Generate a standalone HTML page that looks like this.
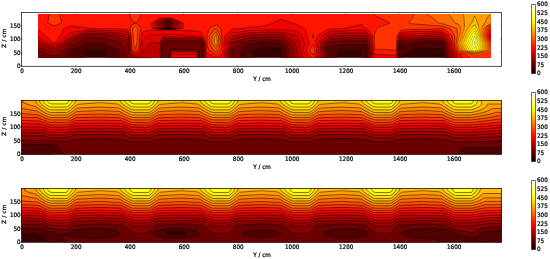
<!DOCTYPE html>
<html><head><meta charset="utf-8"><title>Contour plots</title>
<style>html,body{margin:0;padding:0;background:#fff}svg{display:block}</style></head>
<body>
<svg width="550" height="259" viewBox="0 0 550 259">
<rect width="550" height="259" fill="#fff"/>
<defs><linearGradient id="hotg" x1="0" y1="1" x2="0" y2="0"><stop offset="0" stop-color="#0b0000"/><stop offset="0.365" stop-color="#ff0000"/><stop offset="0.746" stop-color="#ffff00"/><stop offset="1" stop-color="#ffffff"/></linearGradient></defs>
<g><rect x="38.3" y="14" width="452.5" height="43.8" fill="#350000"/>
<path d="M38.3,14 490.8,14 490.8,57.8 442.5,57.8 442.6,50.5 442.3,49 426.1,47.8 421.8,48.8 410,50.5 400.5,57.8 361.5,57.8 361.5,50.5 345.3,49.5 339.1,50.5 338.3,54.4 337.3,57.8 280.7,57.8 281.5,54.4 282.2,50.5 280.7,48.4 264.5,47.4 258.3,48.8 252.4,50.5 253.3,54.4 254.6,57.8 106.2,57.8 105.6,50.5 102.9,49.3 86.8,49.3 83.8,50.5 83.3,57.8 38.3,57.8Z" fill="#4f0000" fill-rule="evenodd"/>
<path d="M38.3,14 490.8,14 490.8,57.8 444.9,57.8 445,54.4 442.8,43.2 442.3,42.5 426.1,42.4 417.3,43.2 410,45.1 400.5,45.4 400,50.5 399.9,57.8 366.8,57.8 366.6,50.5 366.4,48.8 365.5,44.5 361.5,45.1 345.3,44.2 329.2,46.6 327.9,50.5 327.4,57.8 285.2,57.8 285.8,50.5 284.9,48.8 280.7,43.2 264.5,42.6 256.5,43.2 248.4,44.7 243.2,48.8 241.2,50.5 240.3,57.8 120.5,57.8 119.1,50.5 116.4,48.8 102.9,43.4 86.8,43.4 73.9,48.8 70.6,49.9 69.9,50.5 68.6,54.4 65,57.8 38.3,57.8ZM167.6,22.4 165.7,23 166.6,28.5 168.6,28.5 168.8,27.1 169.4,23Z" fill="#6c0000" fill-rule="evenodd"/>
<path d="M38.3,14 490.8,14 490.8,57.8 447.3,57.8 447.4,54.4 445.9,50.5 444.3,43.2 442.3,40.6 426.1,40.6 410,42 400.5,42.1 400.2,43.2 399.5,50.5 399.3,57.8 368.2,57.8 367.8,50.5 367.5,48.8 366.5,43.2 365.5,40.7 361.5,41.4 345.3,40.8 329.2,42.2 328.1,43.2 326.4,48.8 326.1,50.5 325.1,57.8 289.7,57.8 289.5,50.5 288.7,48.8 285.5,43.2 280.7,40.4 264.5,39.8 248.4,40.8 240.3,43.2 233.9,48.8 232.2,50.5 231.8,57.8 202.2,57.8 202.1,43.2 201.5,42.2 197,42 167.6,41.9 163.2,41.7 162.5,43.2 162.3,57.8 127.8,57.8 126.5,54.4 125.3,50.5 124.5,48.8 120.5,43.2 119.1,42.4 102.9,37.7 86.8,37.2 75.4,43.2 70.6,45.1 66.6,48.8 63.5,50.5 58.6,54.4 54.5,56 46.5,54.4 38.3,50.5ZM167.6,21.6 163.4,23 164.1,28.5 167.6,28.7 171,28.5 171.8,23 168.8,21.9ZM169.4,50.5 171.2,49.2 197,49.2 198.9,50.5 199.1,57.8 169.1,57.8Z" fill="#890000" fill-rule="evenodd"/>
<path d="M38.3,14 490.8,14 490.8,57.8 449.8,57.8 449.8,54.4 447.5,50.5 445.8,43.2 442.3,38.6 426.1,38.8 410,40 400.5,40.2 399.6,43.2 399,50.5 398.6,57.8 369.7,57.8 369,50.5 367.8,43.2 365.5,37.5 361.5,38.7 345.3,37.7 329.2,39.5 325.5,43.2 324.4,48.8 323.6,54.4 322.9,57.8 294.2,57.8 293.2,50.5 292.6,48.8 290.2,43.2 280.7,37.6 264.5,37 248.4,37.7 232.2,42.6 231.8,43.2 230.4,50.5 229.8,57.8 203.2,57.8 202.9,50.5 202.8,43.2 201.5,40.8 197,40.6 183.7,40.3 167.6,40.2 163.2,39.9 161.6,43.2 161.2,57.8 130.6,57.8 128.8,54.4 128.2,50.5 127.8,43.2 119.1,38.3 111.5,35.9 102.9,34.9 86.8,34.7 82.7,35.9 70.6,41.7 68.5,43.2 61.2,48.8 57.2,50.5 54.5,52.2 49.5,50.5 43.1,48.8 38.3,46.9ZM163.2,22.1 161.1,23 161.7,28.5 167.6,28.8 173.5,28.5 174.1,23 171.2,21.8 167.6,20.9ZM170.1,50.5 171.2,49.7 197,49.7 198.2,50.5 198.5,54.4 198.7,57.8 169.5,57.8 169.7,54.4Z" fill="#a30000" fill-rule="evenodd"/>
<path d="M38.3,14 490.8,14 490.8,57.8 452.2,57.8 452.2,54.4 449.2,50.5 447.3,43.2 442.3,36.7 426.1,37 410,38.1 400.5,38.2 399,43.2 398,57.8 371.1,57.8 369.1,43.2 366.5,35.9 365.5,34.9 361.5,35.9 345.3,35 337.3,35.9 329.2,36.9 322.9,43.2 322.3,50.5 321.5,54.4 320.7,57.8 298.6,57.8 297.7,54.4 296.5,48.8 295,43.2 285.3,35.9 280.7,34.8 264.5,34.5 248.4,35 244.3,35.9 232.2,39.5 229.8,43.2 228.6,50.5 227.8,57.8 204.3,57.8 203.7,50.5 203.6,43.2 201.5,39.4 197,39.1 183.7,38.8 167.6,38.6 163.2,38.1 160.7,43.2 160,57.8 135.3,57.8 131.8,56.7 130.1,54.4 129,50.5 128.5,43.2 127.8,38 123.4,35.9 119.1,35.1 102.9,33.3 86.8,33.1 77.7,35.9 70.6,39.3 65,43.2 55.9,48.8 54.5,49.4 52,48.8 38.3,43.2ZM159.8,22.4 158.8,23 159.2,28.5 163.2,28.8 167.6,29 171.2,28.8 176,28.5 176.4,23 171.2,20.8 167.6,20.1 163.2,21ZM170.8,50.5 171.2,50.2 197,50.2 197.4,50.5 198,54.4 198.3,57.8 169.9,57.8 170.2,54.4Z" fill="#c00000" fill-rule="evenodd"/>
<path d="M38.3,14 490.8,14 490.8,35.3 490.5,35.9 490.8,36.3 490.8,57.8 454.6,57.8 454.6,54.4 450.8,50.5 448.7,43.2 443.9,35.9 442.3,34.7 426.1,35.1 410,36.1 400.5,36.3 398.4,43.2 398.1,48.8 397.4,57.8 372.5,57.8 371.4,50.5 371,48.8 370.4,43.2 368.4,35.9 365.5,32.9 361.5,33.1 345.3,32.9 329.2,34.4 326.5,35.9 320.3,43.2 320.5,50.5 319.5,54.4 318.4,57.8 302.8,57.8 301.4,54.4 300.1,50.5 299.7,43.2 296.9,35.9 280.7,32.2 264.5,32.2 248.4,32.7 234.2,35.9 232.2,36.5 227.8,43.2 227.2,48.8 226.8,50.5 225.7,57.8 205.4,57.8 204.5,50.5 204.4,43.2 201.5,38 197,37.7 183.7,37.2 167.6,36.9 163.2,36.3 159.8,43.2 151.4,42 149.8,43.2 142.8,50.5 140.9,54.4 138.8,55.7 135.3,56.2 131.8,55 131.4,54.4 129.8,50.5 129.3,43.2 128.3,35.9 127.8,34.5 119.1,33 102.9,31.8 86.8,31.5 72.6,35.9 70.6,36.9 61.6,43.2 54.5,47.3 43.6,43.2 38.3,40ZM159.8,20.9 156.4,23 156.7,28.5 159.8,28.8 167.6,29.1 171.2,29 178.4,28.5 178.7,23 171.2,19.8 167.6,19.3 163.2,20ZM170.7,54.4 171.2,51.7 197,51.7 197.5,54.4 197.9,57.8 170.3,57.8Z" fill="#dd0000" fill-rule="evenodd"/>
<path d="M38.3,14 490.8,14 490.8,32.2 489.3,35.9 490.8,38.3 490.8,57.8 457,57.8 457,54.4 452.5,50.5 450.2,43.2 446.6,35.9 442.3,32.6 400.5,34.3 399.5,35.9 397.8,43.2 397.6,48.8 396.8,57.8 373.9,57.8 372.5,50.5 372.1,48.8 371.7,43.2 370.4,35.9 365.5,30.9 361.5,30.2 345.3,30.7 329.2,31.8 322.2,35.9 317.7,43.2 318.6,50.5 317.4,54.4 316.2,57.8 307.1,57.8 305.1,54.4 303.3,50.5 304.5,43.2 302.1,35.9 296.9,30.9 280.7,29.6 264.5,29.9 248.4,30.5 232.2,32.9 229.1,35.9 225.8,43.2 225.4,48.8 223.7,57.8 206.5,57.8 205.9,54.4 205.4,50.5 205.1,43.2 201.5,36.6 197,36.2 190.4,35.9 183.7,35 171.2,34.3 167.6,34.3 163.2,33.3 159.8,35 151.4,34.3 147.5,35.9 142.8,39.5 142.1,43.2 141.5,48.8 141.2,50.5 138.8,53.7 135.3,54.6 131.8,53.2 130.6,50.5 130.1,43.2 129.3,35.9 127.8,32.2 119.1,30.9 102.9,30.3 86.8,30 70.6,32.4 66.8,35.9 58.1,43.2 54.5,45.3 48.9,43.2 38.3,36.8ZM159.8,19.5 154.1,23 154.3,28.5 159.8,29.1 167.6,29.2 171.2,29.2 180.9,28.5 181,23 171.2,18.8 167.6,18.6 163.2,18.9ZM170.7,57.8 171.2,54.6 197,54.6 197.5,57.8Z" fill="#f70000" fill-rule="evenodd"/>
<path d="M38.3,14 490.8,14 490.8,29.1 488.1,35.9 490.8,40.4 490.8,57.8 461.7,57.8 460.8,54.4 458.5,53.9 454.2,50.5 449.3,35.9 442.3,30.6 426.1,31.3 410,31.7 400.5,32.3 398.3,35.9 397.3,43.2 397.1,48.8 396.5,54.9 393.8,55.1 377.7,54.7 374.5,54.3 373.7,50.5 373.3,48.8 373,43.2 372.3,35.9 367.9,29.4 365.9,28.5 365.5,27.8 361.5,24.3 345.3,28.5 329.2,29.2 327.6,29.4 317.8,35.9 315.1,43.2 316.5,48.8 316.7,50.5 315.4,54.4 313.9,57.8 311.3,57.8 308.8,54.4 306.6,50.5 307,48.8 309.2,43.2 307.4,35.9 305.2,29.4 304.4,28.5 296.9,24.5 291.5,23 280.7,19.1 273,23 264.5,25.9 248.4,27.3 242.3,28.5 232.2,29.2 231.6,29.4 225.2,35.9 223.9,43.2 223.6,48.8 222.5,54.1 222.3,54.4 216.1,57.8 208.8,54.4 206.5,52.6 206,48.8 205.9,43.2 203.5,35.9 201.5,32.6 199.9,31.6 199.4,31.4 197,31.1 183.7,30.5 163.2,30.1 159.8,30.4 151.4,30.4 142.8,31.7 141.7,35.9 140.6,43.2 140,48.8 139.6,50.5 138.8,51.6 135.3,53 131.8,51.4 131.4,50.5 131.1,48.8 130.3,35.9 127.8,29.9 119.1,28.8 102.9,28.7 90,28.5 86.8,28 70.6,26.1 64.5,28.5 63.3,29.4 60.4,35.9 54.6,43.2 54.5,43.3 54.2,43.2 45.4,35.9 38.3,29.6ZM159.8,18.1 151.8,23 151.8,28.5 159.8,29.3 167.6,29.4 171.2,29.4 183.3,28.5 183.4,23 171.2,17.9 167.6,17.8ZM171.2,57.8 171.2,57.5 197,57.5 197,57.8Z" fill="#ff1500" fill-rule="evenodd"/>
<path d="M49.3,14 59.6,14 61.6,23 54.5,25.8 47.8,23ZM130,14 140.5,14 139.9,17.6 138.8,19.9 135.3,23 131.8,19.9 130.6,17.6ZM372.9,14 490.8,14 490.8,27.4 489.2,28.5 488.7,29.4 486.9,35.9 490.8,42.4 490.8,57.8 469.8,57.8 466.5,54.4 458.5,52.6 455.8,50.5 455.1,48.8 453.2,43.2 452,35.9 445,29.4 442.3,28.5 426.1,29.4 410,29.4 400.5,30.3 397.1,35.9 396.7,43.2 396.5,49.6 393.8,49.9 374.5,49.1 374.4,48.8 374.3,35.9 374.5,33.8 376.8,29.4 376.8,28.5 377.7,27.6 390.1,23 379.4,17.6 377.7,17ZM129.9,28.5 131.8,24.7 135.3,23 138.8,24.7 140.8,28.5 139.7,35.9 138.8,46.6 138.3,48.8 137.1,50.5 135.3,51.4 133.4,50.5 132.2,48.8 131.8,46.6 131.3,35.9ZM209.2,28.5 216.1,24.6 220.7,28.5 221,29.4 221.9,35.9 222,43.2 221.4,48.8 220.6,50.5 216.7,54.4 216.1,54.8 215.3,54.4 209.4,50.5 208.1,48.8 207,43.2 207,35.9 208.8,29.4ZM312.6,35.9 313,34.7 313.4,35.9 313,38ZM310.5,48.8 313,44.4 314.5,48.8 314.9,50.5 313,55.1 309.8,50.5Z" fill="#ff3200" fill-rule="evenodd"/>
<path d="M413.5,14 490.8,14 490.8,26 487.1,28.5 486.9,29.4 485.6,35.9 489.9,43.2 490.8,48.7 490.8,51.6 481.6,54.4 474.6,56.1 472.3,54.4 458.5,51.3 457.5,50.5 454.6,43.2 454.7,35.9 451,29.4 449.6,28.5 442.3,26 426.1,24.9 410,23.6 408.6,23 410,21 412.6,17.6ZM132.9,28.5 135.3,26.1 137.6,28.5 137.7,29.4 137.5,35.9 136.9,43.2 135.4,48.8 135.3,48.9 135.1,48.8 133.6,43.2 133.1,35.9 132.8,29.4ZM214.4,29.4 216.1,28.5 217.2,29.4 220.2,35.9 220.4,43.2 218.7,48.8 217.3,50.5 216.1,51.7 214.1,50.5 212.2,48.8 209.4,43.2 209.7,35.9Z" fill="#ff4c00" fill-rule="evenodd"/>
<path d="M426.1,14 490.8,14 490.8,24.6 485.1,28.5 484.4,35.9 488.4,43.2 489.2,50.5 474.6,54.1 459.3,50.5 458.4,48.8 456.1,43.2 457.4,35.9 457,28.5 442.3,23.5 438.8,23 432.5,17.6ZM212.3,35.9 216.1,31.6 218.5,35.9 218.9,43.2 216.1,48.7 211.8,43.2Z" fill="#ff6900" fill-rule="evenodd"/>
<path d="M448.8,14 490.8,14 490.8,23.3 483.1,28.5 483.2,35.9 486.9,43.2 487.3,50.5 474.6,53.6 461.3,50.5 458.5,45.4 457.6,43.2 458.5,39.5 459.7,35.9 461,28.5 458.5,24.1 455.2,23ZM215,35.9 216.1,34.7 216.8,35.9 217.3,43.2 216.1,45.6 214.1,43.2Z" fill="#ff8600" fill-rule="evenodd"/>
<path d="M463.5,14 490.8,14 487.1,17.6 484.9,23 481.1,28.5 482,35.9 485.4,43.2 485.3,50.5 474.6,53.2 463.4,50.5 459.3,43.2 461.9,35.9 463.9,29.4 464.3,28.5 464.3,23 464,17.6Z" fill="#ffa000" fill-rule="evenodd"/>
<path d="M473.8,17.6 474.6,16.1 475.6,17.6 477.6,23 479.4,29.4 480.7,35.9 483.9,43.2 483.4,50.5 474.6,52.7 465.4,50.5 461.4,43.2 464,35.9 466.9,29.4 471.7,23Z" fill="#ffbd00" fill-rule="evenodd"/>
<path d="M470.7,28.5 474.6,24.8 477,28.5 477.5,29.4 479.5,35.9 482.5,43.2 481.5,50.5 474.6,52.2 467.4,50.5 463.5,43.2 466.1,35.9 469.9,29.4Z" fill="#ffda00" fill-rule="evenodd"/>
<path d="M474,28.5 474.6,27.9 475.6,29.4 478.3,35.9 481,43.2 479.9,48.8 479.5,50.5 474.6,51.7 469.5,50.5 465.6,43.2 468.2,35.9 473,29.4Z" fill="#fff400" fill-rule="evenodd"/>
<path d="M470.4,35.9 474.6,30.6 477.1,35.9 479.5,43.2 478.1,48.8 477.6,50.5 474.6,51.2 471.5,50.5 467.7,43.2Z" fill="#ffff1b" fill-rule="evenodd"/>
<path d="M472.5,35.9 474.6,33.3 475.8,35.9 478,43.2 476.3,48.8 475.6,50.5 474.6,50.7 473.6,50.5 469.8,43.2Z" fill="#ffff46" fill-rule="evenodd"/>
<path d="M471.9,43.2 474.6,35.9 476.5,43.2 474.6,48.5Z" fill="#ffff6d" fill-rule="evenodd"/>
<path d="M474,43.2 474.6,41.6 475,43.2 474.6,44.4Z" fill="#ffff99" fill-rule="evenodd"/>
<clipPath id="cpo"><path clip-rule="evenodd" d="M0,0H550V259H0ZM458,27H492V56H458Z"/></clipPath><clipPath id="cpi"><rect x="458" y="27" width="34" height="29"/></clipPath>
<defs><path id="ln1" d="M106.2,57.8 105.6,50.5 102.9,49.3 86.8,49.3 83.8,50.5 83.3,57.8M280.7,57.8 281.5,54.4 282.2,50.5 280.7,48.4 264.5,47.4 258.3,48.8 252.4,50.5 253.3,54.4 254.6,57.8M361.5,57.8 361.5,50.5 345.3,49.5 339.1,50.5 338.3,54.4 337.3,57.8M442.5,57.8 442.6,50.5 442.3,49 426.1,47.8 421.8,48.8 410,50.5 400.5,57.8M167.6,22.4 165.7,23 166.6,28.5 168.6,28.5 168.8,27.1 169.4,23ZM120.5,57.8 119.1,50.5 116.4,48.8 102.9,43.4 86.8,43.4 73.9,48.8 70.6,49.9 69.9,50.5 68.6,54.4 65,57.8M285.2,57.8 285.8,50.5 284.9,48.8 280.7,43.2 264.5,42.6 256.5,43.2 248.4,44.7 243.2,48.8 241.2,50.5 240.3,57.8M366.8,57.8 366.6,50.5 366.4,48.8 365.5,44.5 361.5,45.1 345.3,44.2 329.2,46.6 327.9,50.5 327.4,57.8M444.9,57.8 445,54.4 442.8,43.2 442.3,42.5 426.1,42.4 417.3,43.2 410,45.1 400.5,45.4 400,50.5 399.9,57.8M167.6,21.6 163.4,23 164.1,28.5 167.6,28.7 171,28.5 171.8,23 168.8,21.9ZM127.8,57.8 126.5,54.4 125.3,50.5 124.5,48.8 120.5,43.2 119.1,42.4 102.9,37.7 86.8,37.2 75.4,43.2 70.6,45.1 66.6,48.8 63.5,50.5 58.6,54.4 54.5,56 46.5,54.4 38.3,50.5M169.1,57.8 169.4,50.5 171.2,49.2 197,49.2 198.9,50.5 199.1,57.8M202.2,57.8 202.1,43.2 201.5,42.2 197,42 167.6,41.9 163.2,41.7 162.5,43.2 162.3,57.8M289.7,57.8 289.5,50.5 288.7,48.8 285.5,43.2 280.7,40.4 264.5,39.8 248.4,40.8 240.3,43.2 233.9,48.8 232.2,50.5 231.8,57.8M368.2,57.8 367.8,50.5 367.5,48.8 366.5,43.2 365.5,40.7 361.5,41.4 345.3,40.8 329.2,42.2 328.1,43.2 326.4,48.8 326.1,50.5 325.1,57.8M447.3,57.8 447.4,54.4 445.9,50.5 444.3,43.2 442.3,40.6 426.1,40.6 410,42 400.5,42.1 400.2,43.2 399.5,50.5 399.3,57.8M163.2,22.1 161.1,23 161.7,28.5 167.6,28.8 173.5,28.5 174.1,23 171.2,21.8 167.6,20.9ZM130.6,57.8 128.8,54.4 128.2,50.5 127.8,43.2 119.1,38.3 111.5,35.9 102.9,34.9 86.8,34.7 82.7,35.9 70.6,41.7 68.5,43.2 61.2,48.8 57.2,50.5 54.5,52.2 49.5,50.5 43.1,48.8 38.3,46.8M169.5,57.8 169.7,54.4 170.1,50.5 171.2,49.7 197,49.7 198.2,50.5 198.5,54.4 198.7,57.8M203.2,57.8 202.9,50.5 202.8,43.2 201.5,40.8 197,40.6 183.7,40.3 167.6,40.2 163.2,39.9 161.6,43.2 161.2,57.8M294.2,57.8 293.2,50.5 292.6,48.8 290.2,43.2 280.7,37.6 264.5,37 248.4,37.7 232.2,42.6 231.8,43.2 230.4,50.5 229.8,57.8M369.7,57.8 369,50.5 367.8,43.2 365.5,37.5 361.5,38.7 345.3,37.7 329.2,39.5 325.5,43.2 324.4,48.8 323.6,54.4 322.9,57.8M449.8,57.8 449.8,54.4 447.5,50.5 445.8,43.2 442.3,38.6 426.1,38.8 410,40 400.5,40.2 399.6,43.2 399,50.5 398.6,57.8M159.8,22.4 158.8,23 159.2,28.5 163.2,28.8 167.6,29 171.2,28.8 176,28.5 176.4,23 171.2,20.8 167.6,20.1 163.2,21ZM151.4,57.8 135.3,57.8 131.8,56.7 130.1,54.4 129,50.5 128.5,43.2 127.8,38 123.4,35.9 119.1,35.1 102.9,33.3 86.8,33.1 77.7,35.9 70.6,39.3 65,43.2 55.9,48.8 54.5,49.4 52,48.8 38.3,43.2M169.9,57.8 170.2,54.4 170.8,50.5 171.2,50.2 197,50.2 197.4,50.5 198,54.4 198.3,57.8M204.3,57.8 203.7,50.5 203.6,43.2 201.5,39.4 197,39.1 183.7,38.8 167.6,38.6 163.2,38.1 160.7,43.2 160,57.8M298.6,57.8 297.7,54.4 296.5,48.8 295,43.2 285.3,35.9 280.7,34.8 264.5,34.5 248.4,35 244.3,35.9 232.2,39.5 229.8,43.2 228.6,50.5 227.8,57.8M371.1,57.8 369.1,43.2 366.5,35.9 365.5,34.9 361.5,35.9 345.3,35 337.3,35.9 329.2,36.9 322.9,43.2 322.3,50.5 321.5,54.4 320.7,57.8M452.2,57.8 452.2,54.4 449.2,50.5 447.3,43.2 442.3,36.7 426.1,37 410,38.1 400.5,38.2 399,43.2 398,57.8M159.8,20.9 156.4,23 156.7,28.5 159.8,28.8 167.6,29.1 171.2,29 178.4,28.5 178.7,23 171.2,19.8 167.6,19.3 163.2,20ZM490.8,35.3 490.5,35.9 490.8,36.3M170.3,57.8 170.7,54.4 171.2,51.7 197,51.7 197.5,54.4 197.9,57.8M205.4,57.8 204.5,50.5 204.4,43.2 201.5,38 197,37.7 183.7,37.2 167.6,36.9 163.2,36.3 159.8,43.2 151.4,42 149.8,43.2 142.8,50.5 140.9,54.4 138.8,55.7 135.3,56.2 131.8,55 131.4,54.4 129.8,50.5 129.3,43.2 128.3,35.9 127.8,34.5 119.1,33 102.9,31.8 86.8,31.5 72.6,35.9 70.6,36.9 61.6,43.2 54.5,47.3 43.6,43.2 38.3,40M302.8,57.8 301.4,54.4 300.1,50.5 299.7,43.2 296.9,35.9 280.7,32.2 264.5,32.2 248.4,32.7 234.2,35.9 232.2,36.5 227.8,43.2 227.2,48.8 226.8,50.5 225.7,57.8M372.5,57.8 371.4,50.5 371,48.8 370.4,43.2 368.4,35.9 365.5,32.9 361.5,33.1 345.3,32.9 329.2,34.4 326.5,35.9 320.3,43.2 320.5,50.5 319.5,54.4 318.4,57.8M454.6,57.8 454.6,54.4 450.8,50.5 448.7,43.2 443.9,35.9 442.3,34.7 426.1,35.1 410,36.1 400.5,36.3 398.4,43.2 398.1,48.8 397.4,57.8M159.8,19.5 154.1,23 154.3,28.5 159.8,29.1 167.6,29.2 171.2,29.2 180.9,28.5 181,23 171.2,18.8 167.6,18.6 163.2,18.9ZM490.8,32.2 489.3,35.9 490.8,38.3M170.7,57.8 171.2,54.6 197,54.6 197.5,57.8M206.5,57.8 205.9,54.4 205.4,50.5 205.1,43.2 201.5,36.6 197,36.2 190.4,35.9 183.7,35 171.2,34.3 167.6,34.3 163.2,33.3 159.8,35 151.4,34.3 147.5,35.9 142.8,39.5 142.1,43.2 141.5,48.8 141.2,50.5 138.8,53.7 135.3,54.6 131.8,53.2 130.6,50.5 130.1,43.2 129.3,35.9 127.8,32.2 119.1,30.9 102.9,30.3 86.8,30 70.6,32.4 66.8,35.9 58.1,43.2 54.5,45.3 48.9,43.2 38.3,36.8M307.1,57.8 305.1,54.4 303.3,50.5 304.5,43.2 302.1,35.9 296.9,30.9 280.7,29.6 264.5,29.9 248.4,30.5 232.2,32.9 229.1,35.9 225.8,43.2 225.4,48.8 223.7,57.8M373.9,57.8 372.5,50.5 372.1,48.8 371.7,43.2 370.4,35.9 365.5,30.9 361.5,30.2 345.3,30.7 329.2,31.8 322.2,35.9 317.7,43.2 318.6,50.5 317.4,54.4 316.2,57.8M457,57.8 457,54.4 452.5,50.5 450.2,43.2 446.6,35.9 442.3,32.6 400.5,34.3 399.5,35.9 397.8,43.2 397.6,48.8 396.8,57.8M159.8,18.1 151.8,23 151.8,28.5 159.8,29.3 167.6,29.4 171.2,29.4 183.3,28.5 183.4,23 171.2,17.9 167.6,17.8ZM490.8,29.1 488.1,35.9 490.8,40.4M171.2,57.8 171.2,57.5 197,57.5 197,57.8M311.3,57.8 308.8,54.4 306.6,50.5 307,48.8 309.2,43.2 307.4,35.9 305.2,29.4 304.4,28.5 296.9,24.5 291.5,23 280.7,19.1 273,23 264.5,25.9 248.4,27.3 242.3,28.5 232.2,29.2 231.6,29.4 225.2,35.9 223.9,43.2 223.6,48.8 222.5,54.1 222.3,54.4 216.1,57.8 208.8,54.4 206.5,52.6 206,48.8 205.9,43.2 203.5,35.9 201.5,32.6 199.9,31.6 199.4,31.4 197,31.1 183.7,30.5 163.2,30.1 159.8,30.4 151.4,30.4 142.8,31.7 141.7,35.9 140.6,43.2 140,48.8 139.6,50.5 138.8,51.6 135.3,53 131.8,51.4 131.4,50.5 131.1,48.8 130.3,35.9 127.8,29.9 119.1,28.8 102.9,28.7 90,28.5 86.8,28 70.6,26.1 64.5,28.5 63.3,29.4 60.4,35.9 54.5,43.3 54.2,43.2 45.4,35.9 38.3,29.6M461.7,57.8 460.8,54.4 458.5,53.9 454.2,50.5 449.3,35.9 442.3,30.6 426.1,31.3 410,31.7 400.5,32.3 398.3,35.9 397.3,43.2 397.1,48.8 396.5,54.9 393.8,55.1 377.7,54.7 374.5,54.3 373.7,50.5 373.3,48.8 373,43.2 372.3,35.9 367.9,29.4 365.9,28.5 365.5,27.8 361.5,24.3 345.3,28.5 329.2,29.2 327.6,29.4 317.8,35.9 315.1,43.2 316.5,48.8 316.7,50.5 315.4,54.4 313.9,57.8M59.6,14 61.6,23 54.5,25.8 47.8,23 49.3,14M140.5,14 139.9,17.6 138.8,19.9 135.3,23 131.8,19.9 130.6,17.6 130,14M129.9,28.5 131.8,24.7 135.3,23 138.8,24.7 140.8,28.5 139.7,35.9 138.8,46.6 138.3,48.8 137.1,50.5 135.3,51.4 133.4,50.5 132.2,48.8 131.8,46.6 131.3,35.9ZM209.2,28.5 216.1,24.6 220.7,28.5 221,29.4 221.9,35.9 222,43.2 221.4,48.8 220.6,50.5 216.7,54.4 216.1,54.8 215.3,54.4 209.4,50.5 208.1,48.8 207,43.2 207,35.9 208.8,29.4ZM490.8,27.4 489.2,28.5 488.7,29.4 486.9,35.9 490.8,42.4M312.6,35.9 313,34.7 313.4,35.9 313,38ZM310.5,48.8 313,44.4 314.5,48.8 314.9,50.5 313,55.1 309.8,50.5ZM469.8,57.8 466.5,54.4 458.5,52.6 455.8,50.5 453.2,43.2 452,35.9 445,29.4 442.3,28.5 426.1,29.4 410,29.4 400.5,30.3 397.1,35.9 396.7,43.2 396.5,49.6 393.8,49.9 374.5,49.1 374.4,48.8 374.3,35.9 374.5,33.8 376.8,29.4 376.8,28.5 377.7,27.6 390.1,23 379.4,17.6 377.7,17 372.9,14M132.9,28.5 135.3,26.1 137.6,28.5 137.7,29.4 137.5,35.9 136.9,43.2 135.4,48.8 135.3,48.9 135.1,48.8 133.6,43.2 133.1,35.9 132.8,29.4ZM490.8,26 487.1,28.5 486.9,29.4 485.6,35.9 489.9,43.2 490.8,48.7M214.4,29.4 216.1,28.5 217.2,29.4 220.2,35.9 220.4,43.2 218.7,48.8 217.3,50.5 216.1,51.7 214.1,50.5 212.2,48.8 209.4,43.2 209.7,35.9ZM490.8,51.6 481.6,54.4 474.6,56.1 472.3,54.4 458.5,51.3 457.5,50.5 454.6,43.2 454.7,35.9 451,29.4 449.6,28.5 442.3,26 426.1,24.9 410,23.6 408.6,23 410,21 412.6,17.6 413.5,14M490.8,24.6 485.1,28.5 484.4,35.9 488.4,43.2 489.2,50.5 474.6,54.1 459.3,50.5 458.4,48.8 456.1,43.2 457.4,35.9 457,28.5 442.3,23.5 438.8,23 432.5,17.6 426.1,14M212.3,35.9 216.1,31.6 218.5,35.9 218.9,43.2 216.1,48.7 211.8,43.2ZM490.8,23.3 483.1,28.5 483.2,35.9 486.9,43.2 487.3,50.5 474.6,53.6 461.3,50.5 458.5,45.4 457.6,43.2 458.5,39.5 459.7,35.9 461,28.5 458.5,24.1 455.2,23 448.8,14M215,35.9 216.1,34.7 216.8,35.9 217.3,43.2 216.1,45.6 214.1,43.2ZM490.8,14 487.1,17.6 484.9,23 481.1,28.5 482,35.9 485.4,43.2 485.3,50.5 474.6,53.2 463.4,50.5 459.3,43.2 461.9,35.9 463.9,29.4 464.3,28.5 464.3,23 464,17.6 463.5,14M473.8,17.6 474.6,16.1 475.6,17.6 477.6,23 479.4,29.4 480.7,35.9 483.9,43.2 483.4,50.5 474.6,52.7 465.4,50.5 461.4,43.2 464,35.9 466.9,29.4 471.7,23ZM470.7,28.5 474.6,24.8 477,28.5 477.5,29.4 479.5,35.9 482.5,43.2 481.5,50.5 474.6,52.2 467.4,50.5 463.5,43.2 466.1,35.9 469.9,29.4ZM474,28.5 474.6,27.9 475.6,29.4 478.3,35.9 481,43.2 479.9,48.8 479.5,50.5 474.6,51.7 469.5,50.5 465.6,43.2 468.2,35.9 473,29.4ZM470.4,35.9 474.6,30.6 477.1,35.9 479.5,43.2 478.1,48.8 477.6,50.5 474.6,51.2 471.5,50.5 467.7,43.2ZM472.5,35.9 474.6,33.3 475.8,35.9 478,43.2 476.3,48.8 475.6,50.5 474.6,50.7 473.6,50.5 469.8,43.2ZM471.9,43.2 474.6,35.9 476.5,43.2 474.6,48.5ZM474,43.2 474.6,41.6 475,43.2 474.6,44.4Z"/></defs>
<use href="#ln1" clip-path="url(#cpo)" fill="none" stroke="#000" stroke-opacity="0.9" stroke-width="0.45" stroke-linejoin="round"/>
<use href="#ln1" clip-path="url(#cpi)" fill="none" stroke="#000" stroke-opacity="0.6" stroke-width="0.35" stroke-linejoin="round"/></g>
<g><rect x="21.5" y="100.5" width="480" height="53.8" fill="#350000"/>
<path d="M21.5,100.5 501.5,100.5 501.5,154.3 21.5,154.3Z" fill="#4f0000" fill-rule="evenodd"/>
<path d="M21.5,100.5 501.5,100.5 501.5,147.5 467.5,147.6 465.5,147.6 462.6,148.3 460.6,150.3 459,152.3 457.7,154.3 62.3,154.3 61.4,152.3 59.5,148.3 57,146.3 55.5,145.7 53.5,145.1 51.5,144.7 43.5,144.4 21.5,144.4Z" fill="#6c0000" fill-rule="evenodd"/>
<path d="M21.5,100.5 501.5,100.5 501.5,141 471.5,141.7 455.5,141.7 453.5,141.5 451.5,141.1 447.5,139.9 445.5,139.6 433.5,139.1 423.5,138.4 421.5,138.4 415.5,138.9 409.5,139.2 397.5,139.6 395.2,140.4 393.5,141.1 391.5,141.6 389.5,141.7 373.5,141.6 371.5,141.2 368.5,140.4 365.5,139.6 353.5,139.1 343.5,138.4 341.5,138.3 327.5,139.2 315.5,139.6 311.5,141.2 309.5,141.7 307.5,141.7 293.5,141.7 291.5,141.6 289.5,141.2 286.8,140.4 283.5,139.6 271.5,139.1 261.5,138.4 247.5,139.2 235.5,139.6 231.5,141.2 229.5,141.7 227.5,141.7 213.5,141.7 211.5,141.6 209.5,141.2 206.8,140.4 203.5,139.6 191.5,139.1 181.5,138.4 167.5,139.2 155.5,139.6 151.5,141.2 149.5,141.7 147.5,141.7 133.5,141.7 131.5,141.6 129.5,141.2 126.8,140.4 123.5,139.6 111.5,139.1 101.1,138.4 97.5,138.4 91.5,138.9 85.5,139.2 73.5,139.6 71.2,140.4 69.5,141.1 67.5,141.6 65.5,141.6 61.5,141.2 57.5,141 49.5,140.8 44.4,140.4 43.5,140.2 41.5,140.1 39.9,140.4 37.5,140.5 21.5,140.4Z" fill="#890000" fill-rule="evenodd"/>
<path d="M21.5,100.5 501.5,100.5 501.5,136.6 471.5,137.9 455.5,137.9 453.5,137.5 447.5,135.4 445.5,134.9 421.5,134.4 397.5,134.9 393.5,136.9 391.5,137.7 389.5,137.9 375.5,137.9 373.5,137.7 369.5,136.4 365.5,134.9 341.5,134.4 317.5,134.9 315.5,135.1 312.9,136.4 309.5,137.8 293.5,137.9 291.5,137.6 283.5,134.9 261.5,134.4 237.5,134.9 235.5,135.1 232.9,136.4 229.5,137.8 213.5,137.9 211.5,137.6 203.5,134.9 181.5,134.4 157.5,134.9 155.5,135.1 152.9,136.4 149.5,137.8 133.5,137.9 131.5,137.6 123.5,134.9 99.5,134.4 73.5,134.9 69.5,136.9 67.5,137.7 65.5,137.9 51.5,137.9 49.5,137.7 43.5,135.8 41.5,135.4 37.5,135.9 35.5,135.9 21.5,135.7Z" fill="#a30000" fill-rule="evenodd"/>
<path d="M21.5,100.5 501.5,100.5 501.5,133.4 471.5,135 455.5,135 453.5,134.6 445.5,131.7 421.5,131.2 399.5,131.7 397.5,131.9 391.5,134.7 389.5,135 375.5,135 373.5,134.8 369.5,133.4 365.5,131.9 363.5,131.6 341.5,131.2 317.5,131.7 315.5,132 309.5,134.9 307.5,135 293.5,135 291.5,134.7 287.5,133.3 283.5,131.8 281.5,131.6 261.5,131.2 237.5,131.7 235.5,132 229.5,134.9 227.5,135 213.5,135 211.5,134.7 207.5,133.3 203.5,131.8 201.5,131.6 181.5,131.2 157.5,131.7 155.5,132 149.5,134.9 147.5,135 133.5,135 131.5,134.7 127.5,133.3 123.5,131.8 121.5,131.6 99.5,131.2 75.5,131.7 73.5,131.9 67.5,134.7 65.5,135 51.5,135 49.5,134.8 43.5,132.8 41.5,132.4 39.5,132.6 37.5,132.9 35.5,132.9 21.5,132.7Z" fill="#c00000" fill-rule="evenodd"/>
<path d="M21.5,100.5 501.5,100.5 501.5,130.4 471.5,132.4 455.5,132.4 453.5,132 445.5,128.9 443.5,128.7 421.5,128.3 399.5,128.8 397.5,129.1 391.5,132.2 389.5,132.4 375.5,132.4 373.5,132.2 365.5,129.2 363.5,128.8 341.5,128.3 317.5,128.8 315.5,129.3 309.5,132.3 307.5,132.4 293.5,132.4 291.5,132.1 283.5,129.1 281.5,128.7 259.5,128.3 237.5,128.8 235.5,129.3 229.5,132.3 227.5,132.4 213.5,132.4 211.5,132.1 203.5,129.1 201.5,128.7 181.5,128.3 157.5,128.8 155.5,129.3 149.5,132.3 147.5,132.4 133.5,132.4 131.5,132.1 123.5,129.1 121.5,128.7 99.5,128.3 75.5,128.8 73.5,129.1 67.5,132.2 65.5,132.4 51.5,132.4 49.5,132.2 43.5,130.1 41.5,129.7 39.5,129.7 37.5,130.1 35.5,130.2 21.5,129.8Z" fill="#dd0000" fill-rule="evenodd"/>
<path d="M21.5,100.5 501.5,100.5 501.5,127.5 471.5,129.8 455.5,129.8 453.5,129.3 445.5,126.4 443.5,126.1 421.5,125.6 399.5,126.1 397.5,126.6 391.5,129.5 389.5,129.8 375.5,129.8 373.5,129.6 365.5,126.7 363.5,126.1 341.5,125.6 317.5,126.1 315.5,126.7 309.5,129.7 307.5,129.8 293.5,129.8 291.5,129.5 283.5,126.6 281.5,126.1 259.5,125.6 237.5,126.1 235.5,126.7 229.5,129.7 227.5,129.8 213.5,129.8 211.5,129.5 203.5,126.6 201.5,126.1 181.5,125.6 157.5,126.1 155.5,126.7 149.5,129.7 147.5,129.8 133.5,129.8 131.5,129.5 123.5,126.6 121.5,126.1 99.5,125.6 75.5,126.1 73.5,126.6 67.5,129.5 65.5,129.8 51.5,129.8 49.5,129.6 46.3,128.4 43.5,127.5 39.5,126.7 37.5,127 35.5,127 21.5,126.7Z" fill="#f70000" fill-rule="evenodd"/>
<path d="M21.5,100.5 501.5,100.5 501.5,124.8 471.5,127.2 455.5,127.2 453.5,126.8 445.5,124 443.5,123.4 421.5,122.9 399.5,123.5 397.5,124.1 391.5,127 389.5,127.2 375.5,127.2 373.5,127 367.5,125 363.5,123.5 341.5,122.9 317.5,123.5 315.5,124.3 309.5,127.1 307.5,127.2 293.5,127.2 291.5,126.9 285.5,124.9 281.5,123.4 259.5,122.9 237.5,123.5 235.5,124.3 229.5,127.1 227.5,127.2 213.5,127.2 211.5,126.9 205.5,124.9 201.5,123.4 181.5,122.9 157.5,123.5 155.5,124.3 149.5,127.1 147.5,127.2 133.5,127.2 131.5,126.9 125.5,124.9 121.5,123.4 99.5,122.9 75.5,123.5 73.5,124.1 67.5,127 65.5,127.2 51.5,127.2 49.5,127 43.5,125.1 39.5,123.9 35.5,124 21.5,123.6Z" fill="#ff1500" fill-rule="evenodd"/>
<path d="M21.5,100.5 501.5,100.5 501.5,121.9 487.5,123.4 471.5,124.9 455.5,124.9 453.1,124.4 443.5,120.6 421.5,120.1 399.5,120.7 397.5,121.6 391.5,124.7 389.5,124.9 375.5,124.9 373.5,124.8 367.5,122.5 363.5,120.9 361.5,120.6 341.5,120.1 317.5,120.7 309.5,124.8 307.5,124.9 293.5,124.9 291.5,124.7 290.7,124.4 281.5,120.8 279.5,120.6 259.5,120.1 237.5,120.7 229.5,124.8 227.5,124.9 213.5,124.9 211.5,124.7 210.7,124.4 201.5,120.8 199.5,120.6 181.5,120.1 157.5,120.7 149.5,124.8 147.5,124.9 133.5,124.9 131.5,124.7 130.7,124.4 121.5,120.8 119.5,120.6 99.5,120.1 75.5,120.7 73.5,121.6 67.5,124.7 65.5,124.9 51.5,124.9 49.5,124.8 39.5,121.1 37.5,120.9 21.5,120.4Z" fill="#ff3200" fill-rule="evenodd"/>
<path d="M21.5,100.5 501.5,100.5 501.5,118.8 487.5,120.6 471.5,122.5 455.5,122.5 453.5,122 447.5,119.7 443.5,118 441.5,117.7 423.5,117.1 421.5,117.1 399.5,117.8 391.5,122.2 389.5,122.5 375.5,122.5 373.5,122.3 367.5,120 363.5,118.3 361.5,117.7 341.5,117.1 319.5,117.8 317.5,118 309.5,122.4 307.5,122.5 293.5,122.5 291.5,122.2 285.5,119.8 281.5,118.1 279.5,117.7 261.5,117.1 259.5,117.1 239.5,117.8 237.5,118 229.5,122.4 227.5,122.5 213.5,122.5 211.5,122.2 205.5,119.8 201.5,118.1 199.5,117.7 181.5,117.1 179.5,117.1 159.5,117.8 157.5,118 149.5,122.4 147.5,122.5 133.5,122.5 131.5,122.2 125.5,119.8 121.5,118.1 119.5,117.7 99.5,117.1 75.5,117.8 67.5,122.2 65.5,122.5 51.5,122.5 49.5,122.3 41.5,119.2 39.5,118.3 37.5,117.7 21.5,117.2Z" fill="#ff4c00" fill-rule="evenodd"/>
<path d="M21.5,100.5 501.5,100.5 501.5,115.7 499.5,115.7 497.5,115.9 493.5,116.8 487.5,117.8 471.5,119.9 455.5,119.9 453.5,119.5 447.5,117.1 443.5,115.2 441.5,114.7 423.5,114 421.5,114 401.5,114.8 399.5,115 395.5,117.5 391.5,119.7 389.5,119.9 375.5,119.9 373.5,119.7 367.5,117.4 361.5,114.7 341.5,114 319.5,114.8 317.5,115.2 313.5,117.7 309.5,119.8 307.5,119.9 293.5,119.9 291.5,119.6 285.5,117.3 281.5,115.4 279.5,114.7 261.5,114 259.5,114 239.5,114.8 237.5,115.2 233.5,117.7 229.5,119.8 227.5,119.9 213.5,119.9 211.5,119.6 205.5,117.3 201.5,115.4 199.5,114.7 181.5,114 159.5,114.8 157.5,115.2 153.5,117.7 149.5,119.8 147.5,119.9 133.5,119.9 131.5,119.6 125.5,117.3 121.5,115.4 119.5,114.7 99.5,114 77.5,114.8 75.5,115 71.5,117.5 67.5,119.7 65.5,119.9 51.5,119.9 49.5,119.7 47.5,119 41.5,116.5 37.5,114.6 21.5,113.5Z" fill="#ff6900" fill-rule="evenodd"/>
<path d="M21.5,100.5 501.5,100.5 501.5,112.3 497.5,112.3 495.5,112.4 491.5,113.7 487.5,114.7 481.5,115.9 471.5,117.5 455.5,117.5 453.5,117 449.5,115.3 447.5,114.4 441.5,111.4 423.5,110.5 421.5,110.5 401.5,111.5 399.5,112.1 396.2,114.4 391.5,117.2 389.5,117.5 375.5,117.5 373.5,117.3 371.4,116.4 366.8,114.4 361.5,111.6 359.5,111.3 341.5,110.5 319.5,111.5 317.5,112.3 314.5,114.4 309.5,117.4 307.5,117.5 293.5,117.5 291.5,117.2 287.5,115.5 283.5,113.7 279.5,111.5 277.5,111.3 261.5,110.5 259.5,110.6 239.5,111.5 237.5,112.3 234.5,114.4 229.5,117.4 227.5,117.5 213.5,117.5 211.5,117.2 207.5,115.5 203.5,113.7 199.5,111.5 197.5,111.3 181.5,110.5 159.5,111.5 157.5,112.3 154.5,114.4 149.5,117.4 147.5,117.5 133.5,117.5 131.5,117.2 127.5,115.5 123.5,113.7 119.5,111.5 117.5,111.3 99.5,110.5 77.5,111.5 75.5,112.1 72.2,114.4 67.5,117.2 65.5,117.5 51.5,117.5 49.5,117.3 43.5,114.8 41.5,113.7 37.5,111.2 35.5,110.6 29.5,109.8 23.5,108.7 21.5,108.6Z" fill="#ff8600" fill-rule="evenodd"/>
<path d="M23.2,100.5 501.5,100.5 501.5,108.5 493.5,108.5 491.5,109 489.1,110.5 485.5,111.8 483.5,112.4 479.5,113.4 471.5,115 455.5,115 453.5,114.5 449,112.5 445.5,110.6 441.5,108.2 439.5,107.8 423.5,107 421.5,107 401.5,108.1 399.5,109.1 397.5,110.7 395.5,112.2 391.5,114.7 389.5,115 375.5,115 373.5,114.8 371.5,113.9 368.3,112.5 365.5,111 361.5,108.6 359.5,107.9 341.5,107 319.5,108.1 317.5,109.3 315.5,111 313.5,112.4 309.5,114.9 307.5,115 293.5,115 291.5,114.7 289.5,113.8 285.5,111.9 283.5,110.9 279.5,108.4 277.5,107.8 261.5,107 259.5,107 239.5,108.1 237.5,109.3 235.5,111 233.5,112.4 229.5,114.9 227.5,115 213.5,115 211.5,114.7 209.5,113.8 205.5,111.9 203.5,110.9 199.5,108.4 197.5,107.8 181.5,107 179.5,107 159.5,108.1 157.5,109.3 155.5,111 153.5,112.4 149.5,114.9 147.5,115 133.5,115 131.5,114.7 129.5,113.8 125.5,111.9 123.5,110.9 119.5,108.4 117.5,107.8 99.5,107 77.5,108.1 75.5,109.1 73.5,110.7 71.5,112.2 67.5,114.7 65.5,115 51.5,115 49.5,114.8 44.4,112.5 41,110.5 37.5,107.8 35.5,106.6 31.5,105.6 27.8,104.5 23.5,102.6 22.8,102.5Z" fill="#ffa000" fill-rule="evenodd"/>
<path d="M35.6,100.5 501.5,100.5 501.5,104 489.5,104 487.5,104.2 487.3,104.5 486.4,106.5 483.8,108.5 481.5,109.5 479.1,110.5 471.5,112.5 455.5,112.5 453.5,112 450.4,110.5 446.8,108.5 441.5,104.9 440.4,104.5 439.5,104 423.5,102.7 421.5,102.8 401.5,104.3 395.5,109.3 394.1,110.5 391.5,112.2 389.5,112.5 375.5,112.5 373.5,112.3 369.7,110.5 365.5,108.1 360,104.5 359.5,104 343.5,102.8 341.5,102.7 319.5,104.4 314.9,108.5 312.4,110.5 309.5,112.4 307.5,112.5 293.5,112.5 291.5,112.1 288,110.5 283.5,107.9 277.5,104 261.5,102.7 259.5,102.8 239.5,104.4 234.9,108.5 232.4,110.5 229.5,112.4 227.5,112.5 213.5,112.5 211.5,112.1 208,110.5 203.5,107.9 197.5,104 181.5,102.7 179.5,102.8 159.5,104.4 154.9,108.5 152.4,110.5 149.5,112.4 147.5,112.5 133.5,112.5 131.5,112.1 128,110.5 123.5,107.9 117.5,104 101.5,102.7 99.5,102.7 97.5,102.8 77.5,104.3 71.5,109.3 70.1,110.5 67.5,112.2 65.5,112.5 51.5,112.5 49.5,112.3 47.5,111.4 45.5,110.3 41.5,107.7 40,106.5 37.8,104.5 36.2,102.5Z" fill="#ffbd00" fill-rule="evenodd"/>
<path d="M39.2,100.5 76.1,100.5 75.2,102.5 73.5,104.5 71.3,106.5 67.5,109.5 65.5,109.9 51.5,109.9 49.5,109.7 45.5,107.4 43.5,105.9 41.7,104.5 40,102.5ZM119.7,100.5 158.4,100.5 157.5,102.5 155.9,104.5 153.6,106.5 149.5,109.8 147.5,109.9 133.5,109.9 131.5,109.5 126.2,106.5 123.1,104.5 120.9,102.5ZM199.7,100.5 238.4,100.5 237.5,102.5 235.9,104.5 233.6,106.5 229.5,109.8 227.5,109.9 213.5,109.9 211.5,109.5 206.2,106.5 203.1,104.5 200.9,102.5ZM279.7,100.5 318.4,100.5 317.5,102.5 315.9,104.5 313.6,106.5 309.5,109.8 307.5,109.9 293.5,109.9 291.5,109.5 286.2,106.5 283.1,104.5 280.9,102.5ZM361.4,100.5 400.1,100.5 399.2,102.5 397.5,104.5 395.3,106.5 391.5,109.5 389.5,109.9 375.5,109.9 373.5,109.7 367.9,106.5 364.8,104.5 362.6,102.5ZM442.1,100.5 480.8,100.5 481.7,102.5 481.6,104.5 479.5,106.4 477.5,107.5 475.3,108.5 471.5,109.9 455.5,109.9 453.5,109.3 448.6,106.5 445.5,104.5 443.3,102.5Z" fill="#ffda00" fill-rule="evenodd"/>
<path d="M42.8,100.5 72.7,100.5 71.6,102.5 70.1,104.5 67.5,106.6 65.5,107 51.5,107 49.5,106.7 45.8,104.5 43.9,102.5ZM124.2,100.5 155,100.5 153.9,102.5 152.4,104.5 149.5,106.9 147.5,107 133.5,107 131.5,106.6 128,104.5 125.7,102.5ZM204.2,100.5 235,100.5 233.9,102.5 232.4,104.5 229.5,106.9 227.5,107 213.5,107 211.5,106.6 208,104.5 205.7,102.5ZM284.2,100.5 315,100.5 313.9,102.5 312.4,104.5 309.5,106.9 307.5,107 293.5,107 291.5,106.6 288,104.5 285.7,102.5ZM365.9,100.5 396.7,100.5 395.6,102.5 394.1,104.5 391.5,106.6 389.5,107 375.5,107 373.5,106.7 369.7,104.5 367.4,102.5ZM446.6,100.5 477.4,100.5 477,102.5 475.9,104.5 471.5,107 455.5,107 453.5,106.3 450.4,104.5 448.1,102.5Z" fill="#fff400" fill-rule="evenodd"/>
<path d="M46.9,100.5 69.2,100.5 68,102.5 67.5,103.2 65.5,103.9 51.5,103.9 49.5,103.4 48.5,102.5ZM129.1,100.5 151.5,100.5 150.3,102.5 149.5,103.6 147.5,103.9 133.5,103.9 131.5,103.1 130.8,102.5ZM209.1,100.5 231.5,100.5 230.3,102.5 229.5,103.6 227.5,103.9 213.5,103.9 211.5,103.1 210.8,102.5ZM289.1,100.5 311.5,100.5 310.3,102.5 309.5,103.6 307.5,103.9 293.5,103.9 291.5,103.1 290.8,102.5ZM370.8,100.5 393.2,100.5 392,102.5 391.5,103.2 389.5,103.9 375.5,103.9 373.5,103.4 372.5,102.5ZM451.5,100.5 473.9,100.5 472.6,102.5 471.5,103.9 455.5,103.9 453.5,102.7Z" fill="#ffff1b" fill-rule="evenodd"/>
<path d="M51.5,154.3 21.5,154.3M501.5,147.5 467.5,147.6 465.5,147.6 462.6,148.3 460.6,150.3 459,152.3 457.7,154.3M62.3,154.3 61.4,152.3 59.5,148.3 57,146.3 55.5,145.7 53.5,145.1 51.5,144.7 43.5,144.4 21.5,144.4M501.5,141 471.5,141.7 455.5,141.7 453.5,141.5 451.5,141.1 447.5,139.9 445.5,139.6 433.5,139.1 423.5,138.4 421.5,138.4 415.5,138.9 409.5,139.2 397.5,139.6 395.2,140.4 393.5,141.1 391.5,141.6 389.5,141.7 373.5,141.6 371.5,141.2 368.5,140.4 365.5,139.6 353.5,139.1 343.5,138.4 341.5,138.3 327.5,139.2 315.5,139.6 311.5,141.2 309.5,141.7 307.5,141.7 293.5,141.7 291.5,141.6 289.5,141.2 286.8,140.4 283.5,139.6 271.5,139.1 261.5,138.4 247.5,139.2 235.5,139.6 231.5,141.2 229.5,141.7 227.5,141.7 213.5,141.7 211.5,141.6 209.5,141.2 206.8,140.4 203.5,139.6 191.5,139.1 181.5,138.4 167.5,139.2 155.5,139.6 151.5,141.2 149.5,141.7 147.5,141.7 133.5,141.7 131.5,141.6 129.5,141.2 126.8,140.4 123.5,139.6 111.5,139.1 101.1,138.4 97.5,138.4 91.5,138.9 85.5,139.2 73.5,139.6 71.2,140.4 69.5,141.1 67.5,141.6 65.5,141.6 61.5,141.2 57.5,141 49.5,140.8 44.4,140.4 43.5,140.2 41.5,140.1 39.9,140.4 37.5,140.5 21.5,140.4M501.5,136.6 471.5,137.9 455.5,137.9 453.5,137.5 447.5,135.4 445.5,134.9 421.5,134.4 397.5,134.9 393.5,136.9 391.5,137.7 389.5,137.9 375.5,137.9 373.5,137.7 369.5,136.4 365.5,134.9 341.5,134.4 317.5,134.9 315.5,135.1 312.9,136.4 309.5,137.8 293.5,137.9 291.5,137.6 283.5,134.9 261.5,134.4 237.5,134.9 235.5,135.1 232.9,136.4 229.5,137.8 213.5,137.9 211.5,137.6 203.5,134.9 181.5,134.4 157.5,134.9 155.5,135.1 152.9,136.4 149.5,137.8 133.5,137.9 131.5,137.6 123.5,134.9 99.5,134.4 73.5,134.9 69.5,136.9 67.5,137.7 65.5,137.9 51.5,137.9 49.5,137.7 43.5,135.8 41.5,135.4 37.5,135.9 35.5,135.9 21.5,135.7M501.5,133.4 471.5,135 455.5,135 453.5,134.6 445.5,131.7 421.5,131.2 399.5,131.7 397.5,131.9 391.5,134.7 389.5,135 375.5,135 373.5,134.8 369.5,133.4 365.5,131.9 363.5,131.6 341.5,131.2 317.5,131.7 315.5,132 309.5,134.9 307.5,135 293.5,135 291.5,134.7 287.5,133.3 283.5,131.8 281.5,131.6 261.5,131.2 237.5,131.7 235.5,132 229.5,134.9 227.5,135 213.5,135 211.5,134.7 207.5,133.3 203.5,131.8 201.5,131.6 181.5,131.2 157.5,131.7 155.5,132 149.5,134.9 147.5,135 133.5,135 131.5,134.7 127.5,133.3 123.5,131.8 121.5,131.6 99.5,131.2 75.5,131.7 73.5,131.9 67.5,134.7 65.5,135 51.5,135 49.5,134.8 43.5,132.8 41.5,132.4 39.5,132.6 37.5,132.9 35.5,132.9 21.5,132.7M501.5,130.4 471.5,132.4 455.5,132.4 453.5,132 445.5,128.9 443.5,128.7 421.5,128.3 399.5,128.8 397.5,129.1 391.5,132.2 389.5,132.4 375.5,132.4 373.5,132.2 365.5,129.2 363.5,128.8 341.5,128.3 317.5,128.8 315.5,129.3 309.5,132.3 307.5,132.4 293.5,132.4 291.5,132.1 283.5,129.1 281.5,128.7 259.5,128.3 237.5,128.8 235.5,129.3 229.5,132.3 227.5,132.4 213.5,132.4 211.5,132.1 203.5,129.1 201.5,128.7 181.5,128.3 157.5,128.8 155.5,129.3 149.5,132.3 147.5,132.4 133.5,132.4 131.5,132.1 123.5,129.1 121.5,128.7 99.5,128.3 75.5,128.8 73.5,129.1 67.5,132.2 65.5,132.4 51.5,132.4 49.5,132.2 43.5,130.1 41.5,129.7 39.5,129.7 37.5,130.1 35.5,130.2 21.5,129.8M501.5,127.5 471.5,129.8 455.5,129.8 453.5,129.3 445.5,126.4 443.5,126.1 421.5,125.6 399.5,126.1 397.5,126.6 391.5,129.5 389.5,129.8 375.5,129.8 373.5,129.6 365.5,126.7 363.5,126.1 341.5,125.6 317.5,126.1 315.5,126.7 309.5,129.7 307.5,129.8 293.5,129.8 291.5,129.5 283.5,126.6 281.5,126.1 259.5,125.6 237.5,126.1 235.5,126.7 229.5,129.7 227.5,129.8 213.5,129.8 211.5,129.5 203.5,126.6 201.5,126.1 181.5,125.6 157.5,126.1 155.5,126.7 149.5,129.7 147.5,129.8 133.5,129.8 131.5,129.5 123.5,126.6 121.5,126.1 99.5,125.6 75.5,126.1 73.5,126.6 67.5,129.5 65.5,129.8 51.5,129.8 49.5,129.6 46.3,128.4 43.5,127.5 39.5,126.7 37.5,127 35.5,127 21.5,126.7M501.5,124.8 471.5,127.2 455.5,127.2 453.5,126.8 445.5,124 443.5,123.4 421.5,122.9 399.5,123.5 397.5,124.1 391.5,127 389.5,127.2 375.5,127.2 373.5,127 367.5,125 363.5,123.5 341.5,122.9 317.5,123.5 315.5,124.3 309.5,127.1 307.5,127.2 293.5,127.2 291.5,126.9 285.5,124.9 281.5,123.4 259.5,122.9 237.5,123.5 235.5,124.3 229.5,127.1 227.5,127.2 213.5,127.2 211.5,126.9 205.5,124.9 201.5,123.4 181.5,122.9 157.5,123.5 155.5,124.3 149.5,127.1 147.5,127.2 133.5,127.2 131.5,126.9 125.5,124.9 121.5,123.4 99.5,122.9 75.5,123.5 73.5,124.1 67.5,127 65.5,127.2 51.5,127.2 49.5,127 43.5,125.1 39.5,123.9 35.5,124 21.5,123.6M501.5,121.9 487.5,123.4 471.5,124.9 455.5,124.9 453.1,124.4 443.5,120.6 421.5,120.1 399.5,120.7 397.5,121.6 391.5,124.7 389.5,124.9 375.5,124.9 373.5,124.8 367.5,122.5 363.5,120.9 361.5,120.6 341.5,120.1 317.5,120.7 309.5,124.8 307.5,124.9 293.5,124.9 291.5,124.7 290.7,124.4 281.5,120.8 279.5,120.6 259.5,120.1 237.5,120.7 229.5,124.8 227.5,124.9 213.5,124.9 211.5,124.7 210.7,124.4 201.5,120.8 199.5,120.6 181.5,120.1 157.5,120.7 149.5,124.8 147.5,124.9 133.5,124.9 131.5,124.7 130.7,124.4 121.5,120.8 119.5,120.6 99.5,120.1 75.5,120.7 73.5,121.6 67.5,124.7 65.5,124.9 51.5,124.9 49.5,124.8 39.5,121.1 37.5,120.9 21.5,120.4M501.5,118.8 487.5,120.6 471.5,122.5 455.5,122.5 453.5,122 447.5,119.7 443.5,118 441.5,117.7 423.5,117.1 421.5,117.1 399.5,117.8 391.5,122.2 389.5,122.5 375.5,122.5 373.5,122.3 367.5,120 363.5,118.3 361.5,117.7 341.5,117.1 319.5,117.8 317.5,118 309.5,122.4 307.5,122.5 293.5,122.5 291.5,122.2 285.5,119.8 281.5,118.1 279.5,117.7 261.5,117.1 259.5,117.1 239.5,117.8 237.5,118 229.5,122.4 227.5,122.5 213.5,122.5 211.5,122.2 205.5,119.8 201.5,118.1 199.5,117.7 181.5,117.1 179.5,117.1 159.5,117.8 157.5,118 149.5,122.4 147.5,122.5 133.5,122.5 131.5,122.2 125.5,119.8 121.5,118.1 119.5,117.7 99.5,117.1 75.5,117.8 67.5,122.2 65.5,122.5 51.5,122.5 49.5,122.3 41.5,119.2 39.5,118.3 37.5,117.7 21.5,117.2M501.5,115.7 499.5,115.7 497.5,115.9 493.5,116.8 487.5,117.8 471.5,119.9 455.5,119.9 453.5,119.5 447.5,117.1 443.5,115.2 441.5,114.7 423.5,114 421.5,114 401.5,114.8 399.5,115 395.5,117.5 391.5,119.7 389.5,119.9 375.5,119.9 373.5,119.7 367.5,117.4 361.5,114.7 341.5,114 319.5,114.8 317.5,115.2 313.5,117.7 309.5,119.8 307.5,119.9 293.5,119.9 291.5,119.6 285.5,117.3 281.5,115.4 279.5,114.7 261.5,114 259.5,114 239.5,114.8 237.5,115.2 233.5,117.7 229.5,119.8 227.5,119.9 213.5,119.9 211.5,119.6 205.5,117.3 201.5,115.4 199.5,114.7 181.5,114 159.5,114.8 157.5,115.2 153.5,117.7 149.5,119.8 147.5,119.9 133.5,119.9 131.5,119.6 125.5,117.3 121.5,115.4 119.5,114.7 99.5,114 77.5,114.8 75.5,115 71.5,117.5 67.5,119.7 65.5,119.9 51.5,119.9 49.5,119.7 47.5,119 41.5,116.5 37.5,114.6 21.5,113.5M501.5,112.3 497.5,112.3 495.5,112.4 491.5,113.7 487.5,114.7 481.5,115.9 471.5,117.5 455.5,117.5 453.5,117 449.5,115.3 447.5,114.4 441.5,111.4 423.5,110.5 421.5,110.5 401.5,111.5 399.5,112.1 396.2,114.4 391.5,117.2 389.5,117.5 375.5,117.5 373.5,117.3 371.4,116.4 366.8,114.4 361.5,111.6 359.5,111.3 341.5,110.5 319.5,111.5 317.5,112.3 314.5,114.4 309.5,117.4 307.5,117.5 293.5,117.5 291.5,117.2 287.5,115.5 283.5,113.7 279.5,111.5 277.5,111.3 261.5,110.5 259.5,110.6 239.5,111.5 237.5,112.3 234.5,114.4 229.5,117.4 227.5,117.5 213.5,117.5 211.5,117.2 207.5,115.5 203.5,113.7 199.5,111.5 197.5,111.3 181.5,110.5 159.5,111.5 157.5,112.3 154.5,114.4 149.5,117.4 147.5,117.5 133.5,117.5 131.5,117.2 127.5,115.5 123.5,113.7 119.5,111.5 117.5,111.3 99.5,110.5 77.5,111.5 75.5,112.1 72.2,114.4 67.5,117.2 65.5,117.5 51.5,117.5 49.5,117.3 43.5,114.8 41.5,113.7 37.5,111.2 35.5,110.6 29.5,109.8 23.5,108.7 21.5,108.6M501.5,108.5 493.5,108.5 491.5,109 489.1,110.5 485.5,111.8 483.5,112.4 479.5,113.4 471.5,115 455.5,115 453.5,114.5 449,112.5 445.5,110.6 441.5,108.2 439.5,107.8 423.5,107 421.5,107 401.5,108.1 399.5,109.1 397.5,110.7 395.5,112.2 391.5,114.7 389.5,115 375.5,115 373.5,114.8 371.5,113.9 368.3,112.5 365.5,111 361.5,108.6 359.5,107.9 341.5,107 319.5,108.1 317.5,109.3 315.5,111 313.5,112.4 309.5,114.9 307.5,115 293.5,115 291.5,114.7 289.5,113.8 285.5,111.9 283.5,110.9 279.5,108.4 277.5,107.8 261.5,107 259.5,107 239.5,108.1 237.5,109.3 235.5,111 233.5,112.4 229.5,114.9 227.5,115 213.5,115 211.5,114.7 209.5,113.8 205.5,111.9 203.5,110.9 199.5,108.4 197.5,107.8 181.5,107 179.5,107 159.5,108.1 157.5,109.3 155.5,111 153.5,112.4 149.5,114.9 147.5,115 133.5,115 131.5,114.7 129.5,113.8 125.5,111.9 123.5,110.9 119.5,108.4 117.5,107.8 99.5,107 77.5,108.1 75.5,109.1 73.5,110.7 71.5,112.2 67.5,114.7 65.5,115 51.5,115 49.5,114.8 44.4,112.5 41,110.5 37.5,107.8 35.5,106.6 31.5,105.6 27.8,104.5 23.5,102.6 22.8,102.5 23.2,100.5M501.5,104 489.5,104 487.5,104.2 487.3,104.5 486.4,106.5 483.8,108.5 481.5,109.5 479.1,110.5 471.5,112.5 455.5,112.5 453.5,112 450.4,110.5 446.8,108.5 441.5,104.9 440.4,104.5 439.5,104 423.5,102.7 421.5,102.8 401.5,104.3 395.5,109.3 394.1,110.5 391.5,112.2 389.5,112.5 375.5,112.5 373.5,112.3 369.7,110.5 365.5,108.1 360,104.5 359.5,104 343.5,102.8 341.5,102.7 319.5,104.4 314.9,108.5 312.4,110.5 309.5,112.4 307.5,112.5 293.5,112.5 291.5,112.1 288,110.5 283.5,107.9 277.5,104 261.5,102.7 259.5,102.8 239.5,104.4 234.9,108.5 232.4,110.5 229.5,112.4 227.5,112.5 213.5,112.5 211.5,112.1 208,110.5 203.5,107.9 197.5,104 181.5,102.7 179.5,102.8 159.5,104.4 154.9,108.5 152.4,110.5 149.5,112.4 147.5,112.5 133.5,112.5 131.5,112.1 128,110.5 123.5,107.9 117.5,104 101.5,102.7 99.5,102.7 97.5,102.8 77.5,104.3 71.5,109.3 70.1,110.5 67.5,112.2 65.5,112.5 51.5,112.5 49.5,112.3 47.5,111.4 45.5,110.3 41.5,107.7 40,106.5 37.8,104.5 36.2,102.5 35.6,100.5M76.1,100.5 75.2,102.5 73.5,104.5 71.3,106.5 67.5,109.5 65.5,109.9 51.5,109.9 49.5,109.7 45.5,107.4 43.5,105.9 41.7,104.5 40,102.5 39.2,100.5M158.4,100.5 157.5,102.5 155.9,104.5 153.5,106.6 149.5,109.8 147.5,109.9 135.5,109.9 133.5,109.9 131.5,109.5 126.2,106.5 123.1,104.5 120.9,102.5 119.7,100.5M238.4,100.5 237.5,102.5 235.9,104.5 233.5,106.6 229.5,109.8 227.5,109.9 215.5,109.9 213.5,109.9 211.5,109.5 206.2,106.5 203.1,104.5 200.9,102.5 199.7,100.5M318.4,100.5 317.5,102.5 315.9,104.5 313.5,106.6 309.5,109.8 307.5,109.9 299.5,109.9 293.5,109.9 291.5,109.5 286.2,106.5 283.1,104.5 280.9,102.5 279.7,100.5M400.1,100.5 399.2,102.5 397.5,104.5 395.3,106.5 391.5,109.5 389.5,109.9 375.5,109.9 373.5,109.7 367.9,106.5 364.8,104.5 362.6,102.5 361.4,100.5M480.8,100.5 481.7,102.5 481.6,104.5 481.5,104.6 479.5,106.4 477.5,107.5 475.3,108.5 471.5,109.9 455.5,109.9 453.5,109.3 448.6,106.5 445.5,104.5 443.3,102.5 442.1,100.5M72.7,100.5 71.6,102.5 70.1,104.5 67.5,106.6 65.5,107 51.5,107 49.5,106.7 45.8,104.5 43.9,102.5 42.8,100.5M155,100.5 153.9,102.5 152.4,104.5 149.5,106.9 147.5,107 133.5,107 131.5,106.6 128,104.5 125.7,102.5 124.2,100.5M235,100.5 233.9,102.5 232.4,104.5 229.5,106.9 227.5,107 213.5,107 211.5,106.6 208,104.5 205.7,102.5 204.2,100.5M315,100.5 313.9,102.5 312.4,104.5 309.5,106.9 307.5,107 293.5,107 291.5,106.6 288,104.5 285.7,102.5 284.2,100.5M396.7,100.5 395.6,102.5 394.1,104.5 391.5,106.6 389.5,107 375.5,107 373.5,106.7 369.7,104.5 367.4,102.5 365.9,100.5M477.4,100.5 477,102.5 475.9,104.5 471.5,107 455.5,107 453.5,106.3 450.4,104.5 448.1,102.5 446.6,100.5M69.2,100.5 68,102.5 67.5,103.2 65.5,103.9 51.5,103.9 49.5,103.4 48.5,102.5 46.9,100.5M151.5,100.5 150.3,102.5 149.5,103.6 147.5,103.9 133.5,103.9 131.5,103.1 130.8,102.5 129.1,100.5M231.5,100.5 230.3,102.5 229.5,103.6 227.5,103.9 213.5,103.9 211.5,103.1 210.8,102.5 209.1,100.5M311.5,100.5 310.3,102.5 309.5,103.6 307.5,103.9 293.5,103.9 291.5,103.1 290.8,102.5 289.1,100.5M393.2,100.5 392,102.5 391.5,103.2 389.5,103.9 375.5,103.9 373.5,103.4 372.5,102.5 370.8,100.5M473.9,100.5 472.6,102.5 471.5,103.9 455.5,103.9 453.5,102.7 451.5,100.5" fill="none" stroke="#000" stroke-opacity="0.9" stroke-width="0.55" stroke-linejoin="round"/></g>
<g><rect x="21.5" y="188.5" width="480" height="53.8" fill="#350000"/>
<path d="M21.5,188.5 501.5,188.5 501.5,242.3 485.7,242.3 485.5,242.1 483.5,241.2 482.8,242.3 48,242.3 47.5,241.5 45.5,240.3 43.8,238.3 43.5,237.6 41.5,236 37.5,235.3 32.5,234.3 21.5,234.1ZM169.5,232 167.7,232.3 167.5,234.3 169.5,234.8 171.5,235 173.5,235 181.5,235 184.8,234.3 184.7,232.3 181.5,231.7 175.5,231.7 171.5,231.8Z" fill="#4f0000" fill-rule="evenodd"/>
<path d="M21.5,188.5 501.5,188.5 501.5,230.9 495.5,230.9 485.5,231.7 483.5,232.1 483.1,232.3 481.5,234 481,234.3 475.5,237 473.5,237.6 465.5,236.7 464,236.3 458.3,234.3 455.5,233.9 453.5,233.3 451.5,232.3 448.5,230.3 447.5,229.9 445.5,229.6 441.5,229.2 435.5,228.8 429.5,228.6 423.5,228.7 415.5,229.3 407.9,230.3 402.3,232.3 401.8,234.3 405.5,236 406.2,236.3 409.5,237 415.5,237.9 421.5,238.4 429.5,238.6 433.5,239.2 438.6,240.3 438,242.3 68,242.3 63.9,238.3 63.5,237.5 62.2,236.3 63.5,235.6 65.5,235.4 67.5,235.9 67.9,236.3 69.5,236.9 71.5,237.4 73.5,237.5 77.5,237.2 85.5,238.1 91.5,238.4 97.5,238.4 101.5,238.3 105.5,238 109.5,237.5 115.3,236.3 117.5,235.4 119.7,234.3 119.8,232.3 115.9,230.3 109.5,229.2 105.5,228.7 101.5,228.3 97.5,228.2 93.5,228.2 89.5,228.4 85.5,228.7 77.5,229.6 73.5,229.8 71.5,230.5 69.5,231.9 68.5,232.3 67.5,233.5 65.5,233.9 59.5,234 57.5,233.6 53.4,232.3 49.5,231.6 43.5,229.1 41.5,228.7 21.5,228.3ZM159.5,230.1 157.8,230.3 155.5,231.1 153.9,232.3 153.5,234.3 155.5,236 156.3,236.3 161.5,237.4 165.5,237.9 169.5,238.2 175.5,238.4 179.5,238.4 185.5,238 191.5,237.2 195.9,236.3 197.5,235.7 200,234.3 199.7,232.3 197.5,231.3 194.9,230.3 191.5,229.8 187.5,229.2 181.5,228.7 177.5,228.6 173.5,228.7 169.5,228.9 165.5,229.2ZM253.5,230.2 251.5,230.5 247.5,231.2 243.3,232.3 242.4,234.3 245.5,235.5 247.5,236.1 249.5,236.5 253.5,237 259.5,237.3 263.5,237.3 267.5,237.1 271.5,236.7 274.6,236.3 277.5,235.5 280.5,234.3 279.6,232.3 275.5,231.2 271.5,230.5 267.5,230.1 261.5,229.9 257.5,230ZM329.5,230.2 327.5,230.8 323.6,232.3 323.2,234.3 325.5,235.5 327.6,236.3 331.5,237.1 335.5,237.6 341.5,238.1 345.5,238.2 351.5,238 355.5,237.7 359.5,237.2 364.1,236.3 365.5,235.8 367.5,234.6 367.8,234.3 367.4,232.3 365.5,231.3 362.4,230.3 355.5,229.4 349.5,229 345.5,228.9 341.5,228.9 335.5,229.4Z" fill="#6c0000" fill-rule="evenodd"/>
<path d="M21.5,188.5 501.5,188.5 501.5,227 493.5,227 483.5,227.9 481.5,228.4 479.5,229.1 477.5,230 474.1,232.3 473.5,232.6 471.5,232.6 469.5,232.4 467.5,231.9 463.5,231.2 455.5,230 453.5,229.4 451.4,228.4 447.5,226.2 445.5,225.3 432.7,224.4 423.5,224.1 413,224.4 403.5,225.1 397.5,225.4 395.5,227.7 393.5,230.4 391.5,232.2 391.1,232.3 389.5,233.4 379.5,233.4 377.5,233 376.6,232.3 373.5,231.4 371.5,229.9 368.8,228.4 367.5,226.9 365.5,225.4 352,224.4 341.5,224.1 331.3,224.4 321.5,225.1 315.5,225.4 313.3,228.4 311.5,231 309.5,233.2 307.5,233.4 293.5,233.4 291.5,232.7 289.5,231 285.5,226.6 283.5,225.3 270.3,224.4 261.5,224.1 251.3,224.4 241.5,225.1 235.5,225.4 233.3,228.4 231.5,231 229.5,233.2 227.5,233.4 213.5,233.4 211.5,232.7 209.5,231 205.5,226.6 203.5,225.3 190.3,224.4 181.5,224.1 171.3,224.4 161.5,225.1 155.5,225.4 153.3,228.4 151.5,229.5 149.5,231.1 145.1,232.3 143.5,233.4 133.5,233.4 131.5,232.7 131.2,232.3 129.5,230.8 125.5,226.6 123.5,225.3 110.3,224.4 101.5,224.1 97.5,224.1 85.5,224.5 77.5,225.2 73.5,225.2 72.2,226.4 71.5,226.7 69.1,228.4 67.5,229.2 65.5,229.4 61.5,229.4 59.5,229.2 51.5,228.5 49.5,228.1 45.5,226.4 41.5,224.8 21.5,224.2Z" fill="#890000" fill-rule="evenodd"/>
<path d="M21.5,188.5 501.5,188.5 501.5,223.3 491.5,223.3 482.5,224.4 471.5,225.9 455.5,225.9 453.5,225.2 452.2,224.4 448.4,222.4 445.5,221.1 421.5,220.5 397.5,221.3 392.9,224.4 391.5,225.5 389.5,225.9 375.5,225.9 373.5,225.6 371.5,224.4 365.5,221.3 363.5,221.1 341.5,220.5 317.5,221.2 315.5,221.4 311.2,224.4 309.5,225.7 307.5,225.9 293.5,225.9 291.5,225.5 289.8,224.4 283.5,221.2 259.5,220.5 237.5,221.2 235.5,221.4 231.2,224.4 229.5,225.7 227.5,225.9 213.5,225.9 211.5,225.5 209.8,224.4 203.5,221.2 181.5,220.5 157.5,221.2 155.5,221.4 151.2,224.4 149.5,225.7 147.5,225.9 133.5,225.9 131.5,225.5 129.8,224.4 123.5,221.2 99.5,220.5 73.5,221.3 67.5,225.3 65.5,225.6 51.5,225.4 49.5,225.2 47.5,224.4 41.5,221.3 39.5,221.1 21.5,220.6Z" fill="#a30000" fill-rule="evenodd"/>
<path d="M21.5,188.5 501.5,188.5 501.5,220.3 491.5,220.3 489.5,220.5 471.5,222.8 455.5,222.8 453.5,222.2 445.5,218.4 421.5,217.8 399.5,218.4 397.5,218.7 391.5,222.5 389.5,222.8 375.5,222.8 373.5,222.6 365.5,218.7 363.5,218.3 341.5,217.8 317.5,218.4 315.5,218.8 309.5,222.7 307.5,222.8 293.5,222.8 291.5,222.4 283.5,218.6 281.5,218.3 259.5,217.8 237.5,218.4 235.5,218.8 229.5,222.7 227.5,222.8 213.5,222.8 211.5,222.4 203.5,218.6 201.5,218.3 181.5,217.8 157.5,218.4 155.5,218.8 149.5,222.7 147.5,222.8 133.5,222.8 131.5,222.4 123.5,218.6 121.5,218.3 99.5,217.8 75.5,218.4 73.5,218.7 67.5,222.5 65.5,222.8 51.5,222.8 49.5,222.6 41.5,218.7 39.5,218.3 21.5,217.9Z" fill="#c00000" fill-rule="evenodd"/>
<path d="M21.5,188.5 501.5,188.5 501.5,217.6 489.5,217.6 483.5,218.4 471.5,220.2 455.5,220.2 453.5,219.6 451.1,218.4 445.5,216 443.5,215.7 421.5,215.2 399.5,215.7 397.5,216.2 393.7,218.4 391.5,219.8 389.5,220.2 375.5,220.2 373.5,219.9 370.4,218.4 365.8,216.4 363.5,215.7 341.5,215.1 317.5,215.7 315.5,216.3 312,218.4 309.5,220 307.5,220.2 293.5,220.2 291.5,219.8 288.7,218.4 283.5,216.1 281.5,215.7 259.5,215.2 237.5,215.7 235.5,216.3 232,218.4 229.5,220 227.5,220.2 213.5,220.2 211.5,219.8 208.7,218.4 203.5,216.1 201.5,215.7 181.5,215.2 157.5,215.7 155.5,216.3 152,218.4 149.5,220 147.5,220.2 133.5,220.2 131.5,219.8 128.7,218.4 123.5,216.1 121.5,215.7 99.5,215.1 75.5,215.7 73.5,216.2 69.7,218.4 67.5,219.8 65.5,220.2 51.5,220.2 49.5,219.9 46.4,218.4 41.8,216.4 39.5,215.7 21.5,215.2Z" fill="#dd0000" fill-rule="evenodd"/>
<path d="M21.5,188.5 501.5,188.5 501.5,215.1 487.5,215.2 471.5,217.4 455.5,217.4 453.5,216.9 445.5,213.6 443.5,213.1 421.5,212.6 399.5,213.2 397.5,213.8 391.5,217.1 389.5,217.4 375.5,217.4 373.5,217.2 363.5,213.1 341.5,212.6 317.5,213.2 315.5,213.9 309.5,217.3 307.5,217.4 293.5,217.4 291.5,217.1 283.5,213.8 281.5,213.1 259.5,212.6 237.5,213.2 235.5,213.9 229.5,217.3 227.5,217.4 213.5,217.4 211.5,217.1 203.5,213.8 201.5,213.1 181.5,212.6 157.5,213.2 155.5,213.9 149.5,217.3 147.5,217.4 133.5,217.4 131.5,217.1 123.5,213.8 121.5,213.1 99.5,212.6 75.5,213.2 73.5,213.8 67.5,217.1 65.5,217.4 51.5,217.4 49.5,217.2 39.5,213.1 21.5,212.7Z" fill="#f70000" fill-rule="evenodd"/>
<path d="M21.5,188.5 501.5,188.5 501.5,212.6 487.5,212.6 485.5,212.8 471.5,215 455.5,215 453.5,214.6 445.5,211.3 443.5,210.6 421.5,210.1 399.5,210.7 397.5,211.5 391.5,214.8 389.5,215 375.5,215 373.5,214.8 363.5,210.8 361.5,210.6 341.5,210.1 317.5,210.7 314,212.4 309.5,214.9 307.5,215 293.5,215 291.5,214.7 281.5,210.7 259.5,210.1 237.5,210.7 234,212.4 229.5,214.9 227.5,215 213.5,215 211.5,214.7 201.5,210.7 181.5,210.1 157.5,210.7 154,212.4 149.5,214.9 147.5,215 133.5,215 131.5,214.7 121.5,210.7 99.5,210.1 75.5,210.7 73.5,211.5 67.5,214.8 65.5,215 51.5,215 49.5,214.8 39.5,210.8 37.5,210.6 21.5,210.2Z" fill="#ff1500" fill-rule="evenodd"/>
<path d="M21.5,188.5 501.5,188.5 501.5,210.3 485.5,210.3 471.5,212.6 455.5,212.6 453.5,212.2 447.5,209.9 443.5,208.1 423.5,207.5 421.5,207.5 399.5,208.2 391.5,212.3 389.5,212.6 375.5,212.6 373.5,212.4 367.5,210.1 363.5,208.4 361.5,208 341.5,207.4 317.5,208.2 309.5,212.5 307.5,212.6 293.5,212.6 291.5,212.3 285.5,210 281.5,208.3 279.5,208 261.5,207.5 237.5,208.2 229.5,212.5 227.5,212.6 213.5,212.6 211.5,212.3 205.5,210 201.5,208.3 199.5,208 181.5,207.5 157.5,208.2 149.5,212.5 147.5,212.6 133.5,212.6 131.5,212.3 125.5,210 121.5,208.3 119.5,208 99.5,207.4 75.5,208.2 67.5,212.3 65.5,212.6 51.5,212.6 49.5,212.4 43.5,210.1 39.5,208.4 37.5,208 21.5,207.5Z" fill="#ff3200" fill-rule="evenodd"/>
<path d="M21.5,188.5 501.5,188.5 501.5,207.7 485.5,207.7 471.5,210.4 455.5,210.4 453.5,209.9 449.6,208.4 443.5,205.6 441.5,205.2 423.5,204.6 421.5,204.6 399.5,205.4 394.7,208.4 391.5,210.1 389.5,210.4 375.5,210.4 373.5,210.2 368.9,208.4 363.5,205.9 361.5,205.3 341.5,204.6 319.5,205.3 317.5,205.6 313,208.4 309.5,210.3 307.5,210.4 293.5,210.4 291.5,210.1 287.2,208.4 281.5,205.8 279.5,205.2 261.5,204.6 239.5,205.3 237.5,205.6 233,208.4 229.5,210.3 227.5,210.4 213.5,210.4 211.5,210.1 207.2,208.4 201.5,205.8 199.5,205.2 181.5,204.6 159.5,205.3 157.5,205.6 153,208.4 149.5,210.3 147.5,210.4 133.5,210.4 131.5,210.1 127.2,208.4 121.5,205.8 119.5,205.2 99.5,204.6 75.5,205.4 70.7,208.4 67.5,210.1 65.5,210.4 51.5,210.4 49.5,210.2 44.9,208.4 39.5,205.9 37.5,205.3 21.5,204.7Z" fill="#ff4c00" fill-rule="evenodd"/>
<path d="M21.5,188.5 501.5,188.5 501.5,204.7 485.5,204.7 478.9,206.4 471.5,208.2 455.5,208.2 453.5,207.6 447.5,204.9 443.5,202.9 441.5,202.2 423.5,201.5 421.5,201.5 401.5,202.3 399.5,202.7 397,204.4 391.5,207.9 389.5,208.2 375.5,208.2 373.5,208 367.5,205.3 361.5,202.3 341.5,201.4 319.5,202.4 317.5,202.9 313.5,205.6 309.5,208.1 307.5,208.2 293.5,208.2 291.5,207.8 285.5,205.1 281.5,203.1 279.5,202.3 261.5,201.5 239.5,202.4 237.5,202.9 233.5,205.6 229.5,208.1 227.5,208.2 213.5,208.2 211.5,207.8 205.5,205.1 201.5,203.1 199.5,202.3 181.5,201.5 159.5,202.4 157.5,202.9 153.5,205.6 149.5,208.1 147.5,208.2 133.5,208.2 131.5,207.8 125.5,205.1 121.5,203.1 119.5,202.3 99.5,201.4 77.5,202.3 75.5,202.7 73,204.4 67.5,207.9 65.5,208.2 51.5,208.2 49.5,208 41.8,204.4 37.5,202.1 21.5,200.8Z" fill="#ff6900" fill-rule="evenodd"/>
<path d="M21.5,188.5 501.5,188.5 501.5,201.4 485.5,201.4 483.5,202 481.5,202.7 477.5,204 471.5,205.7 455.5,205.7 453.5,205.1 447.5,202.3 445.5,201.3 441.5,199 423.5,198 421.5,198.1 401.5,199.1 399.5,199.8 397.5,201.4 391.5,205.4 389.5,205.7 375.5,205.7 373.5,205.5 365.5,201.7 361.5,199.3 359.5,198.9 341.5,198 319.5,199.1 317.5,200.1 315.5,201.6 309.5,205.6 307.5,205.7 293.5,205.7 291.5,205.3 287.5,203.5 283.5,201.5 279.5,199.1 277.5,198.9 261.5,198 239.5,199.1 237.5,200.1 235.5,201.6 229.5,205.6 227.5,205.7 213.5,205.7 211.5,205.3 207.5,203.5 203.5,201.5 199.5,199.1 197.5,198.9 181.5,198 159.5,199.1 157.5,200.1 155.5,201.6 149.5,205.6 147.5,205.7 133.5,205.7 131.5,205.3 127.5,203.5 123.5,201.5 119.5,199.1 117.5,198.9 99.5,198 77.5,199.1 75.5,199.8 73.5,201.4 67.5,205.4 65.5,205.7 51.5,205.7 49.5,205.5 45.5,203.6 41.5,201.6 39.7,200.5 37.5,198.8 35.5,198.1 29.5,197.1 23.5,195.9 21.5,195.7Z" fill="#ff8600" fill-rule="evenodd"/>
<path d="M24.7,188.5 501.5,188.5 501.5,197.8 485.5,197.8 483.5,198.1 481.5,199.5 479.5,200.5 477.5,201.2 471.5,203.2 455.5,203.2 453.5,202.6 448.8,200.5 445.3,198.5 441.5,195.8 439.5,195.4 423.5,194.5 421.5,194.6 401.5,195.7 399.5,196.8 397.8,198.5 395.5,200.3 391.5,202.9 389.5,203.2 375.5,203.2 373.5,202.9 369.5,201.1 365.5,199 361.5,196.3 359.5,195.5 341.5,194.5 319.5,195.7 317.5,197.1 316.1,198.5 313.5,200.5 309.5,203 307.5,203.2 293.5,203.2 291.5,202.8 287.5,201 283.5,198.8 279.5,196.1 277.5,195.5 261.5,194.5 259.5,194.6 239.5,195.7 237.5,197.1 236.1,198.5 233.5,200.5 229.5,203 227.5,203.2 213.5,203.2 211.5,202.8 207.5,201 203.5,198.8 199.5,196.1 197.5,195.5 181.5,194.5 179.5,194.6 159.5,195.7 157.5,197.1 156.1,198.5 153.5,200.5 149.5,203 147.5,203.2 133.5,203.2 131.5,202.8 127.5,201 123.5,198.8 119.5,196.1 117.5,195.5 99.5,194.5 77.5,195.7 75.5,196.8 73.8,198.5 71.5,200.3 67.5,202.9 65.5,203.2 51.5,203.2 49.5,202.9 44.2,200.5 41.1,198.5 37.5,195.5 35.5,194.1 29.3,192.5 24.5,190.5Z" fill="#ffa000" fill-rule="evenodd"/>
<path d="M35.7,188.5 501.5,188.5 501.5,193.5 483.5,193.5 481.5,194.8 479.9,196.5 477.1,198.5 471.5,200.9 455.5,200.9 453.5,200.3 449.9,198.5 447.5,196.9 441.5,192.8 440.6,192.5 439.5,191.8 423.5,190.7 421.5,190.7 401.5,192.2 399.5,193.8 394.4,198.5 391.5,200.6 389.5,200.9 375.5,200.9 373.5,200.6 369.2,198.5 360.2,192.5 359.5,191.9 341.5,190.7 319.5,192.2 312.7,198.5 309.5,200.7 307.5,200.9 293.5,200.9 291.5,200.5 287.5,198.5 279.5,193.1 278.3,192.5 277.5,191.9 261.5,190.7 259.5,190.8 239.5,192.2 232.7,198.5 229.5,200.7 227.5,200.9 213.5,200.9 211.5,200.5 207.5,198.5 199.5,193.1 198.3,192.5 197.5,191.9 181.5,190.7 179.5,190.8 159.5,192.2 152.7,198.5 149.5,200.7 147.5,200.9 133.5,200.9 131.5,200.5 127.5,198.5 119.5,193.1 118.3,192.5 117.5,191.9 101.5,190.7 99.5,190.7 77.5,192.2 75.5,193.8 70.4,198.5 67.5,200.6 65.5,200.9 51.5,200.9 49.5,200.6 49.1,200.5 45.3,198.5 42.6,196.5 37.9,192.5 36.3,190.5Z" fill="#ffbd00" fill-rule="evenodd"/>
<path d="M39.3,188.5 76.1,188.5 75.2,190.5 73.7,192.5 67.5,198.1 65.5,198.5 51.5,198.5 49.5,198.2 45.5,195.6 41.6,192.5 40.1,190.5ZM119.7,188.5 158.4,188.5 157.5,190.5 155.9,192.5 155.5,192.9 149.5,198.3 147.5,198.5 133.5,198.5 131.5,198 123,192.5 120.9,190.5ZM199.7,188.5 238.4,188.5 237.5,190.5 235.9,192.5 235.5,192.9 229.5,198.3 227.5,198.5 213.5,198.5 211.5,198 203,192.5 200.9,190.5ZM279.7,188.5 318.4,188.5 317.5,190.5 315.9,192.5 315.5,192.9 309.5,198.3 307.5,198.5 293.5,198.5 291.5,198 283,192.5 280.9,190.5ZM361.4,188.5 400.1,188.5 399.2,190.5 397.7,192.5 391.5,198.1 389.5,198.5 375.5,198.5 373.5,198.2 364.7,192.5 362.6,190.5ZM442.1,188.5 480.8,188.5 479.9,190.5 478.9,192.5 477.5,194.2 475.5,195.8 471.5,198.5 455.4,198.5 453.5,197.7 445.4,192.5 443.3,190.5Z" fill="#ffda00" fill-rule="evenodd"/>
<path d="M42.9,188.5 72.7,188.5 71.7,190.5 70.3,192.5 67.5,195.1 65.5,195.5 51.5,195.5 49.5,195.2 45.4,192.5 43.9,190.5ZM124.2,188.5 155,188.5 154,190.5 152.6,192.5 149.5,195.3 147.5,195.5 133.5,195.5 131.5,195 127.6,192.5 125.6,190.5ZM204.2,188.5 235,188.5 234,190.5 232.6,192.5 229.5,195.3 227.5,195.5 213.5,195.5 211.5,195 207.6,192.5 205.6,190.5ZM284.2,188.5 315,188.5 314,190.5 312.6,192.5 309.5,195.3 307.5,195.5 293.5,195.5 291.5,195 287.6,192.5 285.6,190.5ZM365.9,188.5 396.7,188.5 395.7,190.5 394.3,192.5 391.5,195.1 389.5,195.5 375.5,195.5 373.5,195.2 369.3,192.5 367.3,190.5ZM446.6,188.5 477.4,188.5 476.4,190.5 475.1,192.5 471.5,195.5 455.5,195.5 453.5,194.7 450,192.5 448,190.5Z" fill="#fff400" fill-rule="evenodd"/>
<path d="M46.9,188.5 69.2,188.5 67.5,191.6 65.5,192.5 51.5,192.5 49.5,191.9ZM129.1,188.5 151.5,188.5 149.5,192.1 147.5,192.5 133.5,192.5 131.5,191.5ZM209.1,188.5 231.5,188.5 229.5,192.1 227.5,192.5 213.5,192.5 211.5,191.5ZM289.1,188.5 311.5,188.5 309.5,192.1 307.5,192.5 293.5,192.5 291.5,191.5ZM370.8,188.5 393.2,188.5 391.5,191.6 389.5,192.5 375.5,192.5 373.5,191.9ZM451.5,188.5 473.9,188.5 471.5,192.5 455.5,192.5 453.5,191Z" fill="#ffff1b" fill-rule="evenodd"/>
<path d="M169.5,232 167.7,232.3 167.5,234.3 169.5,234.8 171.5,235 173.5,235 181.5,235 184.8,234.3 184.7,232.3 181.5,231.7 175.5,231.7 171.5,231.8ZM48,242.3 47.5,241.5 45.5,240.3 43.8,238.3 43.5,237.6 41.5,236 37.5,235.3 32.5,234.3 21.5,234.1M485.7,242.3 485.5,242.1 483.5,241.2 482.8,242.3M159.5,230.1 157.8,230.3 155.5,231.1 153.9,232.3 153.5,234.3 155.5,236 156.3,236.3 161.5,237.4 165.5,237.9 169.5,238.2 175.5,238.4 179.5,238.4 185.5,238 191.5,237.2 195.9,236.3 197.5,235.7 200,234.3 199.7,232.3 197.5,231.3 194.9,230.3 191.5,229.8 187.5,229.2 181.5,228.7 177.5,228.6 173.5,228.7 169.5,228.9 165.5,229.2ZM253.5,230.2 251.5,230.5 247.5,231.2 243.3,232.3 242.4,234.3 245.5,235.5 247.5,236.1 249.5,236.5 253.5,237 259.5,237.3 263.5,237.3 267.5,237.1 271.5,236.7 274.6,236.3 277.5,235.5 280.5,234.3 279.6,232.3 275.5,231.2 271.5,230.5 267.5,230.1 261.5,229.9 257.5,230ZM329.5,230.2 327.5,230.8 323.6,232.3 323.2,234.3 325.5,235.5 327.6,236.3 331.5,237.1 335.5,237.6 341.5,238.1 345.5,238.2 351.5,238 355.5,237.7 359.5,237.2 364.1,236.3 365.5,235.8 367.5,234.6 367.8,234.3 367.4,232.3 365.5,231.3 362.4,230.3 355.5,229.4 349.5,229 345.5,228.9 341.5,228.9 335.5,229.4ZM501.5,230.9 495.5,230.9 485.5,231.7 483.5,232.1 483.1,232.3 481.5,234 481,234.3 475.5,237 473.5,237.6 465.5,236.7 464,236.3 458.3,234.3 455.5,233.9 453.5,233.3 451.5,232.3 448.5,230.3 447.5,229.9 445.5,229.6 441.5,229.2 435.5,228.8 429.5,228.6 423.5,228.7 415.5,229.3 407.9,230.3 402.3,232.3 401.8,234.3 405.5,236 406.2,236.3 409.5,237 415.5,237.9 421.5,238.4 429.5,238.6 433.5,239.2 438.6,240.3 438,242.3M68,242.3 63.9,238.3 63.5,237.5 62.2,236.3 63.5,235.6 65.5,235.4 67.5,235.9 67.9,236.3 69.5,236.9 71.5,237.4 73.5,237.5 77.5,237.2 85.5,238.1 93.5,238.5 99.5,238.4 105.5,238 111.5,237.1 115.3,236.3 117.5,235.4 119.7,234.3 119.8,232.3 115.9,230.3 109.5,229.2 105.5,228.7 101.5,228.3 95.5,228.2 87.5,228.5 83.5,228.9 77.5,229.6 73.5,229.8 71.5,230.5 69.5,231.9 68.5,232.3 67.5,233.5 65.5,233.9 59.5,234 57.5,233.6 53.4,232.3 49.5,231.6 43.5,229.1 41.5,228.7 21.5,228.3M501.5,227 493.5,227 483.5,227.9 481.5,228.4 479.5,229.1 477.5,230 474.1,232.3 473.5,232.6 471.5,232.6 469.5,232.4 467.5,231.9 463.5,231.2 455.5,230 453.5,229.4 451.4,228.4 447.5,226.2 445.5,225.3 432.7,224.4 423.5,224.1 413,224.4 403.5,225.1 397.5,225.4 395.5,227.7 393.5,230.4 391.5,232.2 391.1,232.3 389.5,233.4 379.5,233.4 377.5,233 376.6,232.3 373.5,231.4 371.5,229.9 368.8,228.4 367.5,226.9 365.5,225.4 352,224.4 343.5,224.1 339.5,224.1 331.3,224.4 321.5,225.1 315.5,225.4 313.3,228.4 311.5,231 309.5,233.2 307.5,233.4 293.5,233.4 291.5,232.7 289.5,231 285.5,226.6 283.5,225.3 270.3,224.4 259.5,224.1 251.3,224.4 241.5,225.1 235.5,225.4 233.3,228.4 231.5,231 229.5,233.2 227.5,233.4 213.5,233.4 211.5,232.7 209.5,231 205.5,226.6 203.5,225.3 190.3,224.4 179.5,224.1 171.3,224.4 161.5,225.1 155.5,225.4 153.3,228.4 151.5,229.5 149.5,231.1 145.1,232.3 143.5,233.4 133.5,233.4 131.5,232.7 131.2,232.3 129.5,230.8 125.5,226.6 123.5,225.3 110.3,224.4 99.5,224.1 87.5,224.4 77.5,225.2 73.5,225.2 72.2,226.4 71.5,226.7 69.1,228.4 67.5,229.2 65.5,229.4 61.5,229.4 51.5,228.5 49.5,228.1 45.5,226.4 41.5,224.8 21.5,224.2M501.5,223.3 491.5,223.3 482.5,224.4 471.5,225.9 455.5,225.9 453.5,225.2 452.2,224.4 448.4,222.4 445.5,221.1 421.5,220.5 397.5,221.3 392.9,224.4 391.5,225.5 389.5,225.9 375.5,225.9 373.5,225.6 371.5,224.4 365.5,221.3 363.5,221.1 341.5,220.5 317.5,221.2 315.5,221.4 311.2,224.4 309.5,225.7 307.5,225.9 293.5,225.9 291.5,225.5 289.8,224.4 283.5,221.2 259.5,220.5 237.5,221.2 235.5,221.4 231.2,224.4 229.5,225.7 227.5,225.9 213.5,225.9 211.5,225.5 209.8,224.4 203.5,221.2 181.5,220.5 157.5,221.2 155.5,221.4 151.2,224.4 149.5,225.7 147.5,225.9 133.5,225.9 131.5,225.5 129.8,224.4 123.5,221.2 99.5,220.5 73.5,221.3 67.5,225.3 65.5,225.6 51.5,225.4 49.5,225.2 47.5,224.4 41.5,221.3 39.5,221.1 21.5,220.6M501.5,220.3 491.5,220.3 489.5,220.5 471.5,222.8 455.5,222.8 453.5,222.2 445.5,218.4 421.5,217.8 399.5,218.4 397.5,218.7 391.5,222.5 389.5,222.8 375.5,222.8 373.5,222.6 365.5,218.7 363.5,218.3 341.5,217.8 317.5,218.4 315.5,218.8 309.5,222.7 307.5,222.8 293.5,222.8 291.5,222.4 283.5,218.6 281.5,218.3 259.5,217.8 237.5,218.4 235.5,218.8 229.5,222.7 227.5,222.8 213.5,222.8 211.5,222.4 203.5,218.6 201.5,218.3 181.5,217.8 157.5,218.4 155.5,218.8 149.5,222.7 147.5,222.8 133.5,222.8 131.5,222.4 123.5,218.6 121.5,218.3 99.5,217.8 75.5,218.4 73.5,218.7 67.5,222.5 65.5,222.8 51.5,222.8 49.5,222.6 41.5,218.7 39.5,218.3 21.5,217.9M501.5,217.6 489.5,217.6 483.5,218.4 471.5,220.2 455.5,220.2 453.5,219.6 451.1,218.4 445.5,216 443.5,215.7 421.5,215.2 399.5,215.7 397.5,216.2 393.7,218.4 391.5,219.8 389.5,220.2 375.5,220.2 373.5,219.9 370.4,218.4 365.8,216.4 363.5,215.7 341.5,215.1 317.5,215.7 315.5,216.3 312,218.4 309.5,220 307.5,220.2 293.5,220.2 291.5,219.8 288.7,218.4 283.5,216.1 281.5,215.7 259.5,215.2 237.5,215.7 235.5,216.3 232,218.4 229.5,220 227.5,220.2 213.5,220.2 211.5,219.8 208.7,218.4 203.5,216.1 201.5,215.7 181.5,215.2 157.5,215.7 155.5,216.3 152,218.4 149.5,220 147.5,220.2 133.5,220.2 131.5,219.8 128.7,218.4 123.5,216.1 121.5,215.7 99.5,215.1 75.5,215.7 73.5,216.2 69.7,218.4 67.5,219.8 65.5,220.2 51.5,220.2 49.5,219.9 46.4,218.4 41.8,216.4 39.5,215.7 21.5,215.2M501.5,215.1 487.5,215.2 471.5,217.4 455.5,217.4 453.5,216.9 445.5,213.6 443.5,213.1 421.5,212.6 399.5,213.2 397.5,213.8 391.5,217.1 389.5,217.4 375.5,217.4 373.5,217.2 363.5,213.1 341.5,212.6 317.5,213.2 315.5,213.9 309.5,217.3 307.5,217.4 293.5,217.4 291.5,217.1 283.5,213.8 281.5,213.1 259.5,212.6 237.5,213.2 235.5,213.9 229.5,217.3 227.5,217.4 213.5,217.4 211.5,217.1 203.5,213.8 201.5,213.1 181.5,212.6 157.5,213.2 155.5,213.9 149.5,217.3 147.5,217.4 133.5,217.4 131.5,217.1 123.5,213.8 121.5,213.1 99.5,212.6 75.5,213.2 73.5,213.8 67.5,217.1 65.5,217.4 51.5,217.4 49.5,217.2 39.5,213.1 21.5,212.7M501.5,212.6 487.5,212.6 485.5,212.8 471.5,215 455.5,215 453.5,214.6 445.5,211.3 443.5,210.6 421.5,210.1 399.5,210.7 397.5,211.5 391.5,214.8 389.5,215 375.5,215 373.5,214.8 363.5,210.8 361.5,210.6 341.5,210.1 317.5,210.7 314,212.4 309.5,214.9 307.5,215 293.5,215 291.5,214.7 281.5,210.7 259.5,210.1 237.5,210.7 234,212.4 229.5,214.9 227.5,215 213.5,215 211.5,214.7 201.5,210.7 181.5,210.1 157.5,210.7 154,212.4 149.5,214.9 147.5,215 133.5,215 131.5,214.7 121.5,210.7 99.5,210.1 75.5,210.7 73.5,211.5 67.5,214.8 65.5,215 51.5,215 49.5,214.8 39.5,210.8 37.5,210.6 21.5,210.2M501.5,210.3 485.5,210.3 471.5,212.6 455.5,212.6 453.5,212.2 447.5,209.9 443.5,208.1 423.5,207.5 421.5,207.5 399.5,208.2 391.5,212.3 389.5,212.6 375.5,212.6 373.5,212.4 367.5,210.1 363.5,208.4 361.5,208 341.5,207.4 317.5,208.2 309.5,212.5 307.5,212.6 293.5,212.6 291.5,212.3 285.5,210 281.5,208.3 279.5,208 261.5,207.5 237.5,208.2 229.5,212.5 227.5,212.6 213.5,212.6 211.5,212.3 205.5,210 201.5,208.3 199.5,208 181.5,207.5 157.5,208.2 149.5,212.5 147.5,212.6 133.5,212.6 131.5,212.3 125.5,210 121.5,208.3 119.5,208 99.5,207.4 75.5,208.2 67.5,212.3 65.5,212.6 51.5,212.6 49.5,212.4 43.5,210.1 39.5,208.4 37.5,208 21.5,207.5M501.5,207.7 485.5,207.7 471.5,210.4 455.5,210.4 453.5,209.9 449.6,208.4 443.5,205.6 441.5,205.2 423.5,204.6 421.5,204.6 399.5,205.4 394.7,208.4 391.5,210.1 389.5,210.4 375.5,210.4 373.5,210.2 368.9,208.4 363.5,205.9 361.5,205.3 341.5,204.6 319.5,205.3 317.5,205.6 313,208.4 309.5,210.3 307.5,210.4 293.5,210.4 291.5,210.1 287.2,208.4 281.5,205.8 279.5,205.2 261.5,204.6 239.5,205.3 237.5,205.6 233,208.4 229.5,210.3 227.5,210.4 213.5,210.4 211.5,210.1 207.2,208.4 201.5,205.8 199.5,205.2 181.5,204.6 159.5,205.3 157.5,205.6 153,208.4 149.5,210.3 147.5,210.4 133.5,210.4 131.5,210.1 127.2,208.4 121.5,205.8 119.5,205.2 99.5,204.6 75.5,205.4 70.7,208.4 67.5,210.1 65.5,210.4 51.5,210.4 49.5,210.2 44.9,208.4 39.5,205.9 37.5,205.3 21.5,204.7M501.5,204.7 485.5,204.7 478.9,206.4 471.5,208.2 455.5,208.2 453.5,207.6 447.5,204.9 443.5,202.9 441.5,202.2 423.5,201.5 421.5,201.5 401.5,202.3 399.5,202.7 397,204.4 391.5,207.9 389.5,208.2 375.5,208.2 373.5,208 367.5,205.3 361.5,202.3 341.5,201.4 319.5,202.4 317.5,202.9 313.5,205.6 309.5,208.1 307.5,208.2 293.5,208.2 291.5,207.8 285.5,205.1 281.5,203.1 279.5,202.3 261.5,201.5 239.5,202.4 237.5,202.9 233.5,205.6 229.5,208.1 227.5,208.2 213.5,208.2 211.5,207.8 205.5,205.1 201.5,203.1 199.5,202.3 181.5,201.5 159.5,202.4 157.5,202.9 153.5,205.6 149.5,208.1 147.5,208.2 133.5,208.2 131.5,207.8 125.5,205.1 121.5,203.1 119.5,202.3 99.5,201.4 77.5,202.3 75.5,202.7 73,204.4 67.5,207.9 65.5,208.2 51.5,208.2 49.5,208 41.8,204.4 37.5,202.1 21.5,200.8M501.5,201.4 485.5,201.4 483.5,202 481.5,202.7 477.5,204 471.5,205.7 455.5,205.7 453.5,205.1 447.5,202.3 445.5,201.3 441.5,199 423.5,198 421.5,198.1 401.5,199.1 399.5,199.8 397.5,201.4 391.5,205.4 389.5,205.7 375.5,205.7 373.5,205.5 365.5,201.7 361.5,199.3 359.5,198.9 341.5,198 319.5,199.1 317.5,200.1 315.5,201.6 309.5,205.6 307.5,205.7 293.5,205.7 291.5,205.3 287.5,203.5 283.5,201.5 279.5,199.1 277.5,198.9 261.5,198 239.5,199.1 237.5,200.1 235.5,201.6 229.5,205.6 227.5,205.7 213.5,205.7 211.5,205.3 207.5,203.5 203.5,201.5 199.5,199.1 197.5,198.9 181.5,198 159.5,199.1 157.5,200.1 155.5,201.6 149.5,205.6 147.5,205.7 133.5,205.7 131.5,205.3 127.5,203.5 123.5,201.5 119.5,199.1 117.5,198.9 99.5,198 77.5,199.1 75.5,199.8 73.5,201.4 67.5,205.4 65.5,205.7 51.5,205.7 49.5,205.5 45.5,203.6 41.5,201.6 39.7,200.5 37.5,198.8 35.5,198.1 29.5,197.1 23.5,195.9 21.5,195.7M501.5,197.8 485.5,197.8 483.5,198.1 481.5,199.5 479.5,200.5 477.5,201.2 471.5,203.2 455.5,203.2 453.5,202.6 448.8,200.5 445.3,198.5 441.5,195.8 439.5,195.4 423.5,194.5 421.5,194.6 401.5,195.7 399.5,196.8 397.8,198.5 395.5,200.3 391.5,202.9 389.5,203.2 375.5,203.2 373.5,202.9 369.5,201.1 365.5,199 361.5,196.3 359.5,195.5 341.5,194.5 319.5,195.7 317.5,197.1 316.1,198.5 313.5,200.5 309.5,203 307.5,203.2 293.5,203.2 291.5,202.8 287.5,201 283.5,198.8 279.5,196.1 277.5,195.5 261.5,194.5 259.5,194.6 239.5,195.7 237.5,197.1 236.1,198.5 233.5,200.5 229.5,203 227.5,203.2 213.5,203.2 211.5,202.8 207.5,201 203.5,198.8 199.5,196.1 197.5,195.5 181.5,194.5 179.5,194.6 159.5,195.7 157.5,197.1 156.1,198.5 153.5,200.5 149.5,203 147.5,203.2 133.5,203.2 131.5,202.8 127.5,201 123.5,198.8 119.5,196.1 117.5,195.5 99.5,194.5 77.5,195.7 75.5,196.8 73.8,198.5 71.5,200.3 67.5,202.9 65.5,203.2 51.5,203.2 49.5,202.9 44.2,200.5 41.1,198.5 37.5,195.5 35.5,194.1 29.3,192.5 24.5,190.5 24.7,188.5M501.5,193.5 483.5,193.5 481.5,194.8 479.9,196.5 477.1,198.5 471.5,200.9 455.5,200.9 453.5,200.3 449.9,198.5 447.5,196.9 441.5,192.8 440.6,192.5 439.5,191.8 423.5,190.7 421.5,190.7 401.5,192.2 399.5,193.8 394.4,198.5 391.5,200.6 389.5,200.9 375.5,200.9 373.5,200.6 369.2,198.5 360.2,192.5 359.5,191.9 341.5,190.7 319.5,192.2 312.7,198.5 309.5,200.7 307.5,200.9 293.5,200.9 291.5,200.5 287.5,198.5 279.5,193.1 278.3,192.5 277.5,191.9 261.5,190.7 259.5,190.8 239.5,192.2 232.7,198.5 229.5,200.7 227.5,200.9 213.5,200.9 211.5,200.5 207.5,198.5 199.5,193.1 198.3,192.5 197.5,191.9 181.5,190.7 179.5,190.8 159.5,192.2 152.7,198.5 149.5,200.7 147.5,200.9 133.5,200.9 131.5,200.5 127.5,198.5 119.5,193.1 118.3,192.5 117.5,191.9 101.5,190.7 99.5,190.7 77.5,192.2 75.5,193.8 70.4,198.5 67.5,200.6 65.5,200.9 51.5,200.9 49.5,200.6 49.1,200.5 45.3,198.5 42.6,196.5 37.9,192.5 36.3,190.5 35.7,188.5M76.1,188.5 75.2,190.5 73.7,192.5 67.5,198.1 65.5,198.5 51.5,198.5 49.5,198.2 45.5,195.6 41.6,192.5 40.1,190.5 39.3,188.5M158.4,188.5 157.5,190.5 155.9,192.5 149.5,198.3 147.5,198.5 133.5,198.5 131.5,198 123,192.5 120.9,190.5 119.7,188.5M238.4,188.5 237.5,190.5 235.9,192.5 229.5,198.3 227.5,198.5 213.5,198.5 211.5,198 203,192.5 200.9,190.5 199.7,188.5M318.4,188.5 317.5,190.5 315.9,192.5 309.5,198.3 307.5,198.5 293.5,198.5 291.5,198 283,192.5 280.9,190.5 279.7,188.5M400.1,188.5 399.2,190.5 397.7,192.5 391.5,198.1 389.5,198.5 375.5,198.5 373.5,198.2 364.7,192.5 362.6,190.5 361.4,188.5M480.8,188.5 479.9,190.5 478.9,192.5 477.5,194.2 475.5,195.8 471.5,198.5 455.4,198.5 453.5,197.7 445.4,192.5 443.3,190.5 442.1,188.5M72.7,188.5 71.7,190.5 70.3,192.5 67.5,195.1 65.5,195.5 51.5,195.5 49.5,195.2 45.4,192.5 43.9,190.5 42.9,188.5M155,188.5 154,190.5 152.6,192.5 149.5,195.3 147.5,195.5 133.5,195.5 131.5,195 127.6,192.5 125.6,190.5 124.2,188.5M235,188.5 234,190.5 232.6,192.5 229.5,195.3 227.5,195.5 213.5,195.5 211.5,195 207.6,192.5 205.6,190.5 204.2,188.5M315,188.5 314,190.5 312.6,192.5 309.5,195.3 307.5,195.5 293.5,195.5 291.5,195 287.6,192.5 285.6,190.5 284.2,188.5M396.7,188.5 395.7,190.5 394.3,192.5 391.5,195.1 389.5,195.5 375.5,195.5 373.5,195.2 369.3,192.5 367.3,190.5 365.9,188.5M477.4,188.5 476.4,190.5 475.1,192.5 471.5,195.5 455.5,195.5 453.5,194.7 450,192.5 448,190.5 446.6,188.5M69.2,188.5 67.5,191.6 65.5,192.5 51.5,192.5 49.5,191.9 46.9,188.5M151.5,188.5 149.5,192.1 147.5,192.5 133.5,192.5 131.5,191.5 129.1,188.5M231.5,188.5 229.5,192.1 227.5,192.5 213.5,192.5 211.5,191.5 209.1,188.5M311.5,188.5 309.5,192.1 307.5,192.5 293.5,192.5 291.5,191.5 289.1,188.5M393.2,188.5 391.5,191.6 389.5,192.5 375.5,192.5 373.5,191.9 370.8,188.5M473.9,188.5 471.5,192.5 455.5,192.5 453.5,191 451.5,188.5" fill="none" stroke="#000" stroke-opacity="0.9" stroke-width="0.55" stroke-linejoin="round"/></g>
<rect x="21.5" y="12.5" width="480.0" height="53.8" fill="none" stroke="#1a1a1a" stroke-width="0.75"/>
<path d="M21.4,66.3v-1.3M21.4,12.5v1.3M75.4,66.3v-1.3M75.4,12.5v1.3M129.4,66.3v-1.3M129.4,12.5v1.3M183.4,66.3v-1.3M183.4,12.5v1.3M237.5,66.3v-1.3M237.5,12.5v1.3M291.5,66.3v-1.3M291.5,12.5v1.3M345.5,66.3v-1.3M345.5,12.5v1.3M399.5,66.3v-1.3M399.5,12.5v1.3M453.5,66.3v-1.3M453.5,12.5v1.3M21.5,66.3h1.3M501.5,66.3h-1.3M21.5,52.8h1.3M501.5,52.8h-1.3M21.5,39.3h1.3M501.5,39.3h-1.3M21.5,25.8h1.3M501.5,25.8h-1.3" stroke="#000" stroke-width="0.3" fill="none"/>
<g font-family="DejaVu Sans, Liberation Sans, sans-serif" font-size="5.65" fill="#000" stroke="#000" stroke-width="0.22" stroke-linejoin="round">
<text transform="translate(22.1,72.8) scale(1,1.09)" text-anchor="middle">0</text>
<text transform="translate(76.1,72.8) scale(1,1.09)" text-anchor="middle">200</text>
<text transform="translate(130.1,72.8) scale(1,1.09)" text-anchor="middle">400</text>
<text transform="translate(184.1,72.8) scale(1,1.09)" text-anchor="middle">600</text>
<text transform="translate(238.2,72.8) scale(1,1.09)" text-anchor="middle">800</text>
<text transform="translate(292.2,72.8) scale(1,1.09)" text-anchor="middle">1000</text>
<text transform="translate(346.2,72.8) scale(1,1.09)" text-anchor="middle">1200</text>
<text transform="translate(400.2,72.8) scale(1,1.09)" text-anchor="middle">1400</text>
<text transform="translate(454.2,72.8) scale(1,1.09)" text-anchor="middle">1600</text>
<text transform="translate(20.7,68) scale(1,1.09)" text-anchor="end">0</text>
<text transform="translate(20.7,54.5) scale(1,1.09)" text-anchor="end">50</text>
<text transform="translate(20.7,41) scale(1,1.09)" text-anchor="end">100</text>
<text transform="translate(20.7,27.5) scale(1,1.09)" text-anchor="end">150</text>
<text transform="translate(262,80.6) scale(1,1.09)" text-anchor="middle">Y / cm</text>
<text transform="translate(6.2,38.2) scale(1,1.09) rotate(-90)" text-anchor="middle">Z / cm</text>
<rect x="531.5" y="4.5" width="4" height="69" fill="url(#hotg)"/>
<rect x="531.5" y="4.5" width="4" height="69" fill="none" stroke="#222" stroke-width="0.55"/>
<text transform="translate(537,75.3) scale(1,1.09)" text-anchor="start">0</text>
<text transform="translate(537,66.7) scale(1,1.09)" text-anchor="start">75</text>
<text transform="translate(537,58.1) scale(1,1.09)" text-anchor="start">150</text>
<text transform="translate(537,49.5) scale(1,1.09)" text-anchor="start">225</text>
<text transform="translate(537,40.9) scale(1,1.09)" text-anchor="start">300</text>
<text transform="translate(537,32.2) scale(1,1.09)" text-anchor="start">375</text>
<text transform="translate(537,23.6) scale(1,1.09)" text-anchor="start">450</text>
<text transform="translate(537,15) scale(1,1.09)" text-anchor="start">525</text>
<text transform="translate(537,6.3) scale(1,1.09)" text-anchor="start">600</text>
</g>
<rect x="21.5" y="100.5" width="480.0" height="53.80000000000001" fill="none" stroke="#1a1a1a" stroke-width="0.75"/>
<path d="M21.4,154.3v-1.3M21.4,100.5v1.3M75.4,154.3v-1.3M75.4,100.5v1.3M129.4,154.3v-1.3M129.4,100.5v1.3M183.4,154.3v-1.3M183.4,100.5v1.3M237.5,154.3v-1.3M237.5,100.5v1.3M291.5,154.3v-1.3M291.5,100.5v1.3M345.5,154.3v-1.3M345.5,100.5v1.3M399.5,154.3v-1.3M399.5,100.5v1.3M453.5,154.3v-1.3M453.5,100.5v1.3M21.5,154.3h1.3M501.5,154.3h-1.3M21.5,140.8h1.3M501.5,140.8h-1.3M21.5,127.3h1.3M501.5,127.3h-1.3M21.5,113.8h1.3M501.5,113.8h-1.3" stroke="#000" stroke-width="0.3" fill="none"/>
<g font-family="DejaVu Sans, Liberation Sans, sans-serif" font-size="5.65" fill="#000" stroke="#000" stroke-width="0.22" stroke-linejoin="round">
<text transform="translate(22.1,160.8) scale(1,1.09)" text-anchor="middle">0</text>
<text transform="translate(76.1,160.8) scale(1,1.09)" text-anchor="middle">200</text>
<text transform="translate(130.1,160.8) scale(1,1.09)" text-anchor="middle">400</text>
<text transform="translate(184.1,160.8) scale(1,1.09)" text-anchor="middle">600</text>
<text transform="translate(238.2,160.8) scale(1,1.09)" text-anchor="middle">800</text>
<text transform="translate(292.2,160.8) scale(1,1.09)" text-anchor="middle">1000</text>
<text transform="translate(346.2,160.8) scale(1,1.09)" text-anchor="middle">1200</text>
<text transform="translate(400.2,160.8) scale(1,1.09)" text-anchor="middle">1400</text>
<text transform="translate(454.2,160.8) scale(1,1.09)" text-anchor="middle">1600</text>
<text transform="translate(20.7,156) scale(1,1.09)" text-anchor="end">0</text>
<text transform="translate(20.7,142.5) scale(1,1.09)" text-anchor="end">50</text>
<text transform="translate(20.7,129) scale(1,1.09)" text-anchor="end">100</text>
<text transform="translate(20.7,115.5) scale(1,1.09)" text-anchor="end">150</text>
<text transform="translate(262,168.6) scale(1,1.09)" text-anchor="middle">Y / cm</text>
<text transform="translate(6.2,126.2) scale(1,1.09) rotate(-90)" text-anchor="middle">Z / cm</text>
<rect x="531.5" y="92.5" width="4" height="69" fill="url(#hotg)"/>
<rect x="531.5" y="92.5" width="4" height="69" fill="none" stroke="#222" stroke-width="0.55"/>
<text transform="translate(537,163.3) scale(1,1.09)" text-anchor="start">0</text>
<text transform="translate(537,154.7) scale(1,1.09)" text-anchor="start">75</text>
<text transform="translate(537,146.1) scale(1,1.09)" text-anchor="start">150</text>
<text transform="translate(537,137.5) scale(1,1.09)" text-anchor="start">225</text>
<text transform="translate(537,128.8) scale(1,1.09)" text-anchor="start">300</text>
<text transform="translate(537,120.2) scale(1,1.09)" text-anchor="start">375</text>
<text transform="translate(537,111.6) scale(1,1.09)" text-anchor="start">450</text>
<text transform="translate(537,103) scale(1,1.09)" text-anchor="start">525</text>
<text transform="translate(537,94.3) scale(1,1.09)" text-anchor="start">600</text>
</g>
<rect x="21.5" y="188.5" width="480.0" height="53.80000000000001" fill="none" stroke="#1a1a1a" stroke-width="0.75"/>
<path d="M21.4,242.3v-1.3M21.4,188.5v1.3M75.4,242.3v-1.3M75.4,188.5v1.3M129.4,242.3v-1.3M129.4,188.5v1.3M183.4,242.3v-1.3M183.4,188.5v1.3M237.5,242.3v-1.3M237.5,188.5v1.3M291.5,242.3v-1.3M291.5,188.5v1.3M345.5,242.3v-1.3M345.5,188.5v1.3M399.5,242.3v-1.3M399.5,188.5v1.3M453.5,242.3v-1.3M453.5,188.5v1.3M21.5,242.3h1.3M501.5,242.3h-1.3M21.5,228.8h1.3M501.5,228.8h-1.3M21.5,215.3h1.3M501.5,215.3h-1.3M21.5,201.8h1.3M501.5,201.8h-1.3" stroke="#000" stroke-width="0.3" fill="none"/>
<g font-family="DejaVu Sans, Liberation Sans, sans-serif" font-size="5.65" fill="#000" stroke="#000" stroke-width="0.22" stroke-linejoin="round">
<text transform="translate(22.1,248.8) scale(1,1.09)" text-anchor="middle">0</text>
<text transform="translate(76.1,248.8) scale(1,1.09)" text-anchor="middle">200</text>
<text transform="translate(130.1,248.8) scale(1,1.09)" text-anchor="middle">400</text>
<text transform="translate(184.1,248.8) scale(1,1.09)" text-anchor="middle">600</text>
<text transform="translate(238.2,248.8) scale(1,1.09)" text-anchor="middle">800</text>
<text transform="translate(292.2,248.8) scale(1,1.09)" text-anchor="middle">1000</text>
<text transform="translate(346.2,248.8) scale(1,1.09)" text-anchor="middle">1200</text>
<text transform="translate(400.2,248.8) scale(1,1.09)" text-anchor="middle">1400</text>
<text transform="translate(454.2,248.8) scale(1,1.09)" text-anchor="middle">1600</text>
<text transform="translate(20.7,244) scale(1,1.09)" text-anchor="end">0</text>
<text transform="translate(20.7,230.5) scale(1,1.09)" text-anchor="end">50</text>
<text transform="translate(20.7,217) scale(1,1.09)" text-anchor="end">100</text>
<text transform="translate(20.7,203.5) scale(1,1.09)" text-anchor="end">150</text>
<text transform="translate(262,256.6) scale(1,1.09)" text-anchor="middle">Y / cm</text>
<text transform="translate(6.2,214.2) scale(1,1.09) rotate(-90)" text-anchor="middle">Z / cm</text>
<rect x="531.5" y="180.5" width="4" height="69" fill="url(#hotg)"/>
<rect x="531.5" y="180.5" width="4" height="69" fill="none" stroke="#222" stroke-width="0.55"/>
<text transform="translate(537,251.3) scale(1,1.09)" text-anchor="start">0</text>
<text transform="translate(537,242.7) scale(1,1.09)" text-anchor="start">75</text>
<text transform="translate(537,234.1) scale(1,1.09)" text-anchor="start">150</text>
<text transform="translate(537,225.5) scale(1,1.09)" text-anchor="start">225</text>
<text transform="translate(537,216.8) scale(1,1.09)" text-anchor="start">300</text>
<text transform="translate(537,208.2) scale(1,1.09)" text-anchor="start">375</text>
<text transform="translate(537,199.6) scale(1,1.09)" text-anchor="start">450</text>
<text transform="translate(537,191) scale(1,1.09)" text-anchor="start">525</text>
<text transform="translate(537,182.3) scale(1,1.09)" text-anchor="start">600</text>
</g>
</svg>
</body></html>
